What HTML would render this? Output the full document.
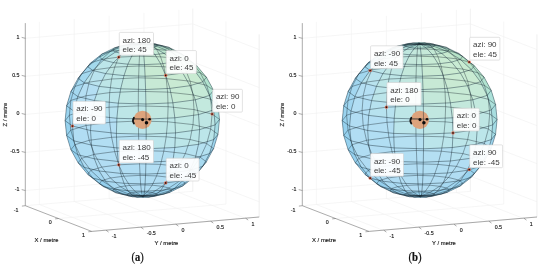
<!DOCTYPE html>
<html><head><meta charset="utf-8"><title>Loudspeaker positions</title>
<style>html,body{margin:0;padding:0;background:#fff}svg{display:block}</style></head>
<body>
<svg width="550" height="269" viewBox="0 0 550 269" font-family="'Liberation Sans', Arial, sans-serif">
<rect width="550" height="269" fill="#fff"/>
<path d="M39.3 204.5L39.3 21.9M39.3 204.5L105.7 230.2M74.2 201.5L74.2 18.9M74.2 201.5L140.6 227.2M109.1 198.5L109.1 15.9M109.1 198.5L175.5 224.2M144 195.5L144 12.9M144 195.5L210.4 221.2M178.9 192.5L178.9 9.9M178.9 192.5L245.3 218.2M25.3 190.5L192.8 176.1M192.8 176.1L259.2 201.8M25.3 152.4L192.8 138M192.8 138L259.2 163.7M25.3 114.4L192.8 100M192.8 100L259.2 125.7M25.3 76.3L192.8 61.9M192.8 61.9L259.2 87.6M25.3 38.3L192.8 23.9M192.8 23.9L259.2 49.6M192.8 191.3L192.8 8.7M25.3 205.7L192.8 191.3M226 204.1L226 21.5M58.5 218.5L226 204.1M259.2 217L259.2 34.4M91.7 231.4L259.2 217M259.2 217L259.2 34.4M192.8 191.3L192.8 8.7" fill="none" stroke="#f0f0f0" stroke-width="0.6"/>
<path d="M25.3 23.1L25.3 205.7L91.7 231.4L259.2 217M25.3 190.5l-3.6 -0.9M25.3 152.4l-3.6 -0.9M25.3 114.4l-3.6 -0.9M25.3 76.3l-3.6 -0.9M25.3 38.3l-3.6 -0.9M25.3 205.7l-3.4 0.4M58.5 218.5l-3.4 0.4M91.7 231.4l-3.4 0.4M106 230.2l2.6 1.9M140.9 227.2l2.6 1.9M175.8 224.2l2.6 1.9M210.7 221.2l2.6 1.9M245.6 218.2l2.6 1.9" fill="none" stroke="#666" stroke-width="0.55"/>
<g font-size="5.3" fill="#1a1a1a" stroke="#1a1a1a" stroke-width="0.15"><text x="19.5" y="191" text-anchor="end">-1</text><text x="19.5" y="152.9" text-anchor="end">-0.5</text><text x="19.5" y="114.9" text-anchor="end">0</text><text x="19.5" y="76.8" text-anchor="end">0.5</text><text x="19.5" y="38.8" text-anchor="end">1</text><text x="18.5" y="211.5" text-anchor="end">-1</text><text x="51.7" y="224.3" text-anchor="end">0</text><text x="84.9" y="237.2" text-anchor="end">1</text><text x="111.8" y="237.8">-1</text><text x="146.7" y="234.8">-0.5</text><text x="181.6" y="231.8">0</text><text x="216.5" y="228.8">0.5</text><text x="251.4" y="225.8">1</text><text x="46.5" y="242" text-anchor="middle" font-size="5.9">X / metre</text><text x="166.5" y="244.8" text-anchor="middle" font-size="5.9">Y / metre</text><text transform="translate(6.5 114.6) rotate(-90)" text-anchor="middle" font-size="5.9">Z / metre</text></g>
<g stroke="none">
<path d="M167.6 121.8L138.4 121L138.3 105.9L168.1 106.7Z" fill="#b0dcf2"/>
<path d="M166.2 136.8L138.6 136.1L138.4 121L167.6 121.8Z" fill="#afdcf2"/>
<path d="M138.4 121L109.7 122.3L109.1 107.2L138.3 105.9Z" fill="#afdcf2"/>
<path d="M138.6 136.1L111.6 137.3L109.7 122.3L138.4 121Z" fill="#afdcf2"/>
<path d="M168.1 106.7L138.3 105.9L138.4 91.3L167.6 92.1Z" fill="#b0dcf2"/>
<path d="M163.8 151.2L139 150.5L138.6 136.1L166.2 136.8Z" fill="#afdcf2"/>
<path d="M138.3 105.9L109.1 107.2L109.7 92.6L138.4 91.3Z" fill="#b0dcf2"/>
<path d="M139 150.5L114.7 151.6L111.6 137.3L138.6 136.1Z" fill="#afdbf2"/>
<path d="M167.6 92.1L138.4 91.3L138.6 77.8L166.2 78.6Z" fill="#b0ddf2"/>
<path d="M160.6 164.4L139.5 163.8L139 150.5L163.8 151.2Z" fill="#afdbf2"/>
<path d="M190.1 139.5L166.2 136.8L167.6 121.8L193 124.6Z" fill="#b0dcf2"/>
<path d="M193 124.6L167.6 121.8L168.1 106.7L194 109.6Z" fill="#b0dcf2"/>
<path d="M138.4 91.3L109.7 92.6L111.6 79L138.6 77.8Z" fill="#b0dcf2"/>
<path d="M139.5 163.8L118.8 164.8L114.7 151.6L139 150.5Z" fill="#aedbf2"/>
<path d="M185.3 153.6L163.8 151.2L166.2 136.8L190.1 139.5Z" fill="#afdcf2"/>
<path d="M194 109.6L168.1 106.7L167.6 92.1L193 94.9Z" fill="#b1ddf2"/>
<path d="M111.6 137.3L89.2 140.3L86 125.5L109.7 122.3Z" fill="#afdbf2"/>
<path d="M109.7 122.3L86 125.5L84.9 110.5L109.1 107.2Z" fill="#afdcf2"/>
<path d="M114.7 151.6L94.5 154.3L89.2 140.3L111.6 137.3Z" fill="#aedbf2"/>
<path d="M178.9 166.4L160.6 164.4L163.8 151.2L185.3 153.6Z" fill="#afdcf2"/>
<path d="M166.2 78.6L138.6 77.8L139 66L163.8 66.7Z" fill="#b1ddf2"/>
<path d="M109.1 107.2L84.9 110.5L86 95.8L109.7 92.6Z" fill="#afdcf2"/>
<path d="M156.6 175.9L140.1 175.4L139.5 163.8L160.6 164.4Z" fill="#afdbf2"/>
<path d="M193 94.9L167.6 92.1L166.2 78.6L190.1 81.2Z" fill="#b1ddf2"/>
<path d="M138.6 77.8L111.6 79L114.7 67.1L139 66Z" fill="#b0ddf2"/>
<path d="M140.1 175.4L123.8 176.2L118.8 164.8L139.5 163.8Z" fill="#aedbf2"/>
<path d="M118.8 164.8L101.7 167.1L94.5 154.3L114.7 151.6Z" fill="#aedbf2"/>
<path d="M109.7 92.6L86 95.8L89.2 82.1L111.6 79Z" fill="#b0dcf2"/>
<path d="M171 177.5L156.6 175.9L160.6 164.4L178.9 166.4Z" fill="#afdcf2"/>
<path d="M190.1 81.2L166.2 78.6L163.8 66.7L185.3 69.1Z" fill="#b2def2"/>
<path d="M123.8 176.2L110.4 178L101.7 167.1L118.8 164.8Z" fill="#aedbf2"/>
<path d="M163.8 66.7L139 66L139.5 56.2L160.6 56.8Z" fill="#b2def2"/>
<path d="M152.2 185.2L140.7 184.9L140.1 175.4L156.6 175.9Z" fill="#afdbf2"/>
<path d="M139 66L114.7 67.1L118.8 57.1L139.5 56.2Z" fill="#b1ddf2"/>
<path d="M206.7 143.6L190.1 139.5L193 124.6L210.7 129Z" fill="#b0ddf2"/>
<path d="M140.7 184.9L129.6 185.4L123.8 176.2L140.1 175.4Z" fill="#aedbf2"/>
<path d="M111.6 79L89.2 82.1L94.5 69.8L114.7 67.1Z" fill="#b0ddf2"/>
<path d="M200.3 157.3L185.3 153.6L190.1 139.5L206.7 143.6Z" fill="#b0dcf2"/>
<path d="M210.7 129L193 124.6L194 109.6L212.1 114Z" fill="#b1ddf2"/>
<path d="M191.6 169.6L178.9 166.4L185.3 153.6L200.3 157.3Z" fill="#b0dcf2"/>
<path d="M212.1 114L194 109.6L193 94.9L210.7 99.3Z" fill="#b2def2"/>
<path d="M162.1 186.3L152.2 185.2L156.6 175.9L171 177.5Z" fill="#afdcf2"/>
<path d="M129.6 185.4L120.3 186.7L110.4 178L123.8 176.2Z" fill="#aedbf2"/>
<path d="M89.2 140.3L75 144.7L70.8 130.1L86 125.5Z" fill="#afdbf2"/>
<path d="M185.3 69.1L163.8 66.7L160.6 56.8L178.9 58.8Z" fill="#b4dff2"/>
<path d="M94.5 154.3L81.7 158.3L75 144.7L89.2 140.3Z" fill="#aedbf2"/>
<path d="M86 125.5L70.8 130.1L69.4 115.2L84.9 110.5Z" fill="#afdcf2"/>
<path d="M181 180L171 177.5L178.9 166.4L191.6 169.6Z" fill="#afdcf2"/>
<path d="M210.7 99.3L193 94.9L190.1 81.2L206.7 85.4Z" fill="#b3def2"/>
<path d="M101.7 167.1L90.8 170.4L81.7 158.3L94.5 154.3Z" fill="#aedbf2"/>
<path d="M114.7 67.1L94.5 69.8L101.7 59.4L118.8 57.1Z" fill="#b1ddf2"/>
<path d="M84.9 110.5L69.4 115.2L70.8 100.4L86 95.8Z" fill="#afdcf2"/>
<path d="M160.6 56.8L139.5 56.2L140.1 48.9L156.6 49.3Z" fill="#b4dff2"/>
<path d="M110.4 178L101.8 180.6L90.8 170.4L101.7 167.1Z" fill="#aedbf2"/>
<path d="M147.3 192.1L141.5 191.9L140.7 184.9L152.2 185.2Z" fill="#afdbf2"/>
<path d="M139.5 56.2L118.8 57.1L123.8 49.6L140.1 48.9Z" fill="#b3def2"/>
<path d="M141.5 191.9L135.8 192.2L129.6 185.4L140.7 184.9Z" fill="#aedbf2"/>
<path d="M169 188L162.1 186.3L171 177.5L181 180Z" fill="#afdcf2"/>
<path d="M206.7 85.4L190.1 81.2L185.3 69.1L200.3 72.8Z" fill="#b5e0f1"/>
<path d="M86 95.8L70.8 100.4L75 86.4L89.2 82.1Z" fill="#b0dcf2"/>
<path d="M152.4 192.6L147.3 192.1L152.2 185.2L162.1 186.3Z" fill="#abdaf1"/>
<path d="M135.8 192.2L131.1 192.8L120.3 186.7L129.6 185.4Z" fill="#a8d8f1"/>
<path d="M120.3 186.7L114.4 188.5L101.8 180.6L110.4 178Z" fill="#a8d8f1"/>
<path d="M178.9 58.8L160.6 56.8L156.6 49.3L171 50.9Z" fill="#b2e0ee"/>
<path d="M89.2 82.1L75 86.4L81.7 73.7L94.5 69.8Z" fill="#a7d9f0"/>
<path d="M118.8 57.1L101.7 59.4L110.4 51.4L123.8 49.6Z" fill="#a6d9f0"/>
<path d="M155.9 193.5L152.4 192.6L162.1 186.3L169 188Z" fill="#9ed4ef"/>
<path d="M200.3 72.8L185.3 69.1L178.9 58.8L191.6 62Z" fill="#b0e1e8"/>
<path d="M131.1 192.8L128.1 193.7L114.4 188.5L120.3 186.7Z" fill="#9ad2ef"/>
<path d="M196.8 173.4L191.6 169.6L200.3 157.3L206.4 161.8Z" fill="#9ed4ef"/>
<path d="M206.4 161.8L200.3 157.3L206.7 143.6L213.6 148.6Z" fill="#a0d5ef"/>
<path d="M185.1 183L181 180L191.6 169.6L196.8 173.4Z" fill="#9ad3ee"/>
<path d="M156.6 49.3L140.1 48.9L140.7 44.3L152.2 44.6Z" fill="#a4dbe9"/>
<path d="M213.6 148.6L206.7 143.6L210.7 129L218 134.3Z" fill="#a0d5ef"/>
<path d="M140.1 48.9L123.8 49.6L129.6 44.8L140.7 44.3Z" fill="#9ed7ec"/>
<path d="M142.3 196.1L141.5 191.9L147.3 192.1Z" fill="#97d1ee"/>
<path d="M142.3 196.1L135.8 192.2L141.5 191.9Z" fill="#97d1ee"/>
<path d="M171.8 190.1L169 188L181 180L185.1 183Z" fill="#95d0ee"/>
<path d="M94.5 69.8L81.7 73.7L90.8 62.8L101.7 59.4Z" fill="#9ad3ee"/>
<path d="M142.3 196.1L147.3 192.1L152.4 192.6Z" fill="#94d0ee"/>
<path d="M142.3 196.1L131.1 192.8L135.8 192.2Z" fill="#94d0ee"/>
<path d="M218 134.3L210.7 129L212.1 114L219.5 119.4Z" fill="#9fd5ef"/>
<path d="M157.3 194.5L155.9 193.5L169 188L171.8 190.1Z" fill="#95d0ee"/>
<path d="M142.3 196.1L152.4 192.6L155.9 193.5Z" fill="#94d0ee"/>
<path d="M142.3 196.1L128.1 193.7L131.1 192.8Z" fill="#94d0ee"/>
<path d="M101.8 180.6L99.4 183.7L87.7 174.3L90.8 170.4Z" fill="#94d0ee"/>
<path d="M171 50.9L156.6 49.3L152.2 44.6L162.1 45.7Z" fill="#a8dfe1"/>
<path d="M114.4 188.5L112.7 190.6L99.4 183.7L101.8 180.6Z" fill="#94d0ee"/>
<path d="M90.8 170.4L87.7 174.3L78.1 162.8L81.7 158.3Z" fill="#94d0ee"/>
<path d="M191.6 62L178.9 58.8L171 50.9L181 53.4Z" fill="#a9e0df"/>
<path d="M219.5 119.4L212.1 114L210.7 99.3L218 104.6Z" fill="#9cd5ee"/>
<path d="M128.1 193.7L127.2 194.8L112.7 190.6L114.4 188.5Z" fill="#94d0ee"/>
<path d="M81.7 158.3L78.1 162.8L70.9 149.7L75 144.7Z" fill="#94d0ee"/>
<path d="M142.3 196.1L155.9 193.5L157.3 194.5Z" fill="#95d0ee"/>
<path d="M123.8 49.6L110.4 51.4L120.3 46.1L129.6 44.8Z" fill="#9cd5ed"/>
<path d="M142.3 196.1L127.2 194.8L128.1 193.7Z" fill="#94d0ee"/>
<path d="M75 144.7L70.9 149.7L66.6 135.5L70.8 130.1Z" fill="#94d0ee"/>
<path d="M218 104.6L210.7 99.3L206.7 85.4L213.6 90.3Z" fill="#a1daea"/>
<path d="M101.7 59.4L90.8 62.8L101.8 54.1L110.4 51.4Z" fill="#99d3ee"/>
<path d="M142.3 196.1L157.3 194.5L156.5 195.6Z" fill="#95d0ee"/>
<path d="M142.3 196.1L128.6 195.8L127.2 194.8Z" fill="#94d0ee"/>
<path d="M70.8 130.1L66.6 135.5L65.1 120.7L69.4 115.2Z" fill="#95d0ee"/>
<path d="M156.5 195.6L157.3 194.5L171.8 190.1L170.1 192.2Z" fill="#95d0ee"/>
<path d="M142.3 196.1L156.5 195.6L153.5 196.5Z" fill="#95d0ee"/>
<path d="M142.3 196.1L132.2 196.7L128.6 195.8Z" fill="#94d0ee"/>
<path d="M213.6 90.3L206.7 85.4L200.3 72.8L206.4 77.2Z" fill="#a8dfe1"/>
<path d="M69.4 115.2L65.1 120.7L66.6 105.8L70.8 100.4Z" fill="#95d1ee"/>
<path d="M181 53.4L171 50.9L162.1 45.7L169 47.4Z" fill="#abe0db"/>
<path d="M127.2 194.8L128.6 195.8L115.5 192.6L112.7 190.6Z" fill="#94d0ee"/>
<path d="M142.3 196.1L153.5 196.5L148.7 197.2Z" fill="#95d0ee"/>
<path d="M152.2 44.6L140.7 44.3L141.5 42.6L147.3 42.8Z" fill="#a9e0df"/>
<path d="M142.3 196.1L137.2 197.3L132.2 196.7Z" fill="#95d0ee"/>
<path d="M140.7 44.3L129.6 44.8L135.8 42.9L141.5 42.6Z" fill="#a8dfe2"/>
<path d="M170.1 192.2L171.8 190.1L185.1 183L182.7 186Z" fill="#96d1ee"/>
<path d="M142.3 196.1L148.7 197.2L143 197.4Z" fill="#95d0ee"/>
<path d="M142.3 196.1L143 197.4L137.2 197.3Z" fill="#95d0ee"/>
<path d="M70.8 100.4L66.6 105.8L70.9 91.5L75 86.4Z" fill="#96d1ee"/>
<path d="M110.4 51.4L101.8 54.1L114.4 47.9L120.3 46.1Z" fill="#9bd5ee"/>
<path d="M206.4 77.2L200.3 72.8L191.6 62L196.8 65.8Z" fill="#aae0dd"/>
<path d="M162.1 45.7L152.2 44.6L147.3 42.8L152.4 43.4Z" fill="#aae0dd"/>
<path d="M182.7 186L185.1 183L196.8 173.4L193.8 177.3Z" fill="#96d1ee"/>
<path d="M112.7 190.6L115.5 192.6L103.5 186.6L99.4 183.7Z" fill="#94d0ee"/>
<path d="M129.6 44.8L120.3 46.1L131.1 43.5L135.8 42.9Z" fill="#a7dfe4"/>
<path d="M75 86.4L70.9 91.5L78.1 78.3L81.7 73.7Z" fill="#97d1ee"/>
<path d="M153.5 196.5L156.5 195.6L170.1 192.2L164.2 194Z" fill="#95d0ee"/>
<path d="M193.8 177.3L196.8 173.4L206.4 161.8L202.8 166.3Z" fill="#96d1ee"/>
<path d="M196.8 65.8L191.6 62L181 53.4L185.1 56.4Z" fill="#ace1da"/>
<path d="M128.6 195.8L132.2 196.7L122.4 194.3L115.5 192.6Z" fill="#94d0ee"/>
</g>
<g stroke="none">
<path d="M169 47.4L162.1 45.7L152.4 43.4L155.9 44.2Z" fill="#b1e3d0" fill-opacity="0.8"/>
<path d="M99.4 183.7L103.5 186.6L92.9 178.1L87.7 174.3Z" fill="#95d0ee" fill-opacity="0.8"/>
<path d="M81.7 73.7L78.1 78.3L87.7 66.7L90.8 62.8Z" fill="#9ad3ee" fill-opacity="0.8"/>
<path d="M120.3 46.1L114.4 47.9L128.1 44.4L131.1 43.5Z" fill="#aae0de" fill-opacity="0.8"/>
<path d="M202.8 166.3L206.4 161.8L213.6 148.6L209.5 153.6Z" fill="#99d3ee" fill-opacity="0.8"/>
<path d="M148.7 197.2L153.5 196.5L164.2 194L155 195.3Z" fill="#95d1ee" fill-opacity="0.8"/>
<path d="M185.1 56.4L181 53.4L169 47.4L171.8 49.5Z" fill="#b5e4c9" fill-opacity="0.8"/>
<path d="M90.8 62.8L87.7 66.7L99.4 57.1L101.8 54.1Z" fill="#9cd5ed" fill-opacity="0.8"/>
<path d="M132.2 196.7L137.2 197.3L132.4 195.4L122.4 194.3Z" fill="#95d0ee" fill-opacity="0.8"/>
<path d="M87.7 174.3L92.9 178.1L84.2 167.3L78.1 162.8Z" fill="#95d0ee" fill-opacity="0.8"/>
<path d="M164.2 194L170.1 192.2L182.7 186L174.1 188.6Z" fill="#96d1ee" fill-opacity="0.8"/>
<path d="M209.5 153.6L213.6 148.6L218 134.3L213.7 139.6Z" fill="#9cd5ed" fill-opacity="0.8"/>
<path d="M147.3 42.8L141.5 42.6L142.3 43.9Z" fill="#aee2d6" fill-opacity="0.8"/>
<path d="M141.5 42.6L135.8 42.9L142.3 43.9Z" fill="#ade1d8" fill-opacity="0.8"/>
<path d="M101.8 54.1L99.4 57.1L112.7 50L114.4 47.9Z" fill="#a5dde5" fill-opacity="0.8"/>
<path d="M143 197.4L148.7 197.2L155 195.3L143.8 195.8Z" fill="#95d0ee" fill-opacity="0.8"/>
<path d="M152.4 43.4L147.3 42.8L142.3 43.9Z" fill="#afe2d4" fill-opacity="0.8"/>
<path d="M137.2 197.3L143 197.4L143.8 195.8L132.4 195.4Z" fill="#95d0ee" fill-opacity="0.8"/>
<path d="M135.8 42.9L131.1 43.5L142.3 43.9Z" fill="#ade1d9" fill-opacity="0.8"/>
<path d="M171.8 49.5L169 47.4L155.9 44.2L157.3 45.3Z" fill="#b4e4cc" fill-opacity="0.8"/>
<path d="M115.5 192.6L122.4 194.3L113.5 189.1L103.5 186.6Z" fill="#95d0ee" fill-opacity="0.8"/>
<path d="M213.7 139.6L218 134.3L219.5 119.4L215.1 124.9Z" fill="#a7dfe3" fill-opacity="0.8"/>
<path d="M78.1 162.8L84.2 167.3L77.8 154.7L70.9 149.7Z" fill="#95d0ee" fill-opacity="0.8"/>
<path d="M155.9 44.2L152.4 43.4L142.3 43.9Z" fill="#b0e3d2" fill-opacity="0.8"/>
<path d="M131.1 43.5L128.1 44.4L142.3 43.9Z" fill="#ade1d9" fill-opacity="0.8"/>
<path d="M114.4 47.9L112.7 50L127.2 45.5L128.1 44.4Z" fill="#aae0de" fill-opacity="0.8"/>
<path d="M215.1 124.9L219.5 119.4L218 104.6L213.7 109.9Z" fill="#abe0dc" fill-opacity="0.8"/>
<path d="M157.3 45.3L155.9 44.2L142.3 43.9Z" fill="#b2e3d0" fill-opacity="0.8"/>
<path d="M128.1 44.4L127.2 45.5L142.3 43.9Z" fill="#ade1d8" fill-opacity="0.8"/>
<path d="M174.1 188.6L182.7 186L193.8 177.3L182.8 180.6Z" fill="#97d1ee" fill-opacity="0.8"/>
<path d="M70.9 149.7L77.8 154.7L73.8 140.8L66.6 135.5Z" fill="#96d1ee" fill-opacity="0.8"/>
<path d="M213.7 109.9L218 104.6L213.6 90.3L209.5 95.4Z" fill="#afe2d4" fill-opacity="0.8"/>
<path d="M156.5 46.3L157.3 45.3L142.3 43.9Z" fill="#b3e4cd" fill-opacity="0.8"/>
<path d="M155 195.3L164.2 194L174.1 188.6L160.7 190.4Z" fill="#96d1ee" fill-opacity="0.8"/>
<path d="M127.2 45.5L128.6 46.6L142.3 43.9Z" fill="#aee2d6" fill-opacity="0.8"/>
<path d="M209.5 95.4L213.6 90.3L206.4 77.2L202.8 81.8Z" fill="#b4e4cb" fill-opacity="0.8"/>
<path d="M170.1 51.6L171.8 49.5L157.3 45.3L156.5 46.3Z" fill="#b7e4c7" fill-opacity="0.8"/>
<path d="M66.6 135.5L73.8 140.8L72.5 126L65.1 120.7Z" fill="#97d2ee" fill-opacity="0.8"/>
<path d="M103.5 186.6L113.5 189.1L105.6 181.2L92.9 178.1Z" fill="#95d0ee" fill-opacity="0.8"/>
<path d="M202.8 81.8L206.4 77.2L196.8 65.8L193.8 69.6Z" fill="#b8e5c4" fill-opacity="0.8"/>
<path d="M182.7 59.4L185.1 56.4L171.8 49.5L170.1 51.6Z" fill="#bae5c1" fill-opacity="0.8"/>
<path d="M122.4 194.3L132.4 195.4L127.9 190.7L113.5 189.1Z" fill="#95d0ee" fill-opacity="0.8"/>
<path d="M193.8 69.6L196.8 65.8L185.1 56.4L182.7 59.4Z" fill="#bae6c0" fill-opacity="0.8"/>
<path d="M153.5 47.3L156.5 46.3L142.3 43.9Z" fill="#b4e4cb" fill-opacity="0.8"/>
<path d="M128.6 46.6L132.2 47.4L142.3 43.9Z" fill="#afe3d4" fill-opacity="0.8"/>
<path d="M112.7 50L115.5 52L128.6 46.6L127.2 45.5Z" fill="#abe0db" fill-opacity="0.8"/>
<path d="M65.1 120.7L72.5 126L73.8 111.1L66.6 105.8Z" fill="#9cd4ef" fill-opacity="0.8"/>
<path d="M148.7 47.9L153.5 47.3L142.3 43.9Z" fill="#b4e4cb" fill-opacity="0.8"/>
<path d="M132.2 47.4L137.2 48L142.3 43.9Z" fill="#b1e3d1" fill-opacity="0.8"/>
<path d="M182.8 180.6L193.8 177.3L202.8 166.3L190 170.3Z" fill="#9ad3ee" fill-opacity="0.8"/>
<path d="M99.4 57.1L103.5 60.1L115.5 52L112.7 50Z" fill="#a9e0e0" fill-opacity="0.8"/>
<path d="M143 48.2L148.7 47.9L142.3 43.9Z" fill="#b6e4cd" fill-opacity="0.8"/>
<path d="M137.2 48L143 48.2L142.3 43.9Z" fill="#b5e4cf" fill-opacity="0.8"/>
<path d="M143.8 195.8L155 195.3L160.7 190.4L144.5 191.2Z" fill="#97d1ee" fill-opacity="0.8"/>
<path d="M66.6 105.8L73.8 111.1L77.8 96.5L70.9 91.5Z" fill="#9fd5ef" fill-opacity="0.8"/>
<path d="M132.4 195.4L143.8 195.8L144.5 191.2L127.9 190.7Z" fill="#98d2ee" fill-opacity="0.8"/>
<path d="M87.7 66.7L92.9 70.5L103.5 60.1L99.4 57.1Z" fill="#a5dbeb" fill-opacity="0.8"/>
<path d="M70.9 91.5L77.8 96.5L84.2 82.7L78.1 78.3Z" fill="#a2d7ef" fill-opacity="0.8"/>
<path d="M78.1 78.3L84.2 82.7L92.9 70.5L87.7 66.7Z" fill="#a2d7ef" fill-opacity="0.8"/>
<path d="M164.2 53.4L170.1 51.6L156.5 46.3L153.5 47.3Z" fill="#bde7c6" fill-opacity="0.8"/>
<path d="M92.9 178.1L105.6 181.2L99.2 171L84.2 167.3Z" fill="#a2d6f0" fill-opacity="0.8"/>
<path d="M115.5 52L122.4 53.7L132.2 47.4L128.6 46.6Z" fill="#b6e5da" fill-opacity="0.8"/>
<path d="M160.7 190.4L174.1 188.6L182.8 180.6L165.7 182.9Z" fill="#a4d7f0" fill-opacity="0.8"/>
<path d="M190 170.3L202.8 166.3L209.5 153.6L195.3 158Z" fill="#aadbf0" fill-opacity="0.8"/>
<path d="M113.5 189.1L127.9 190.7L124 183.3L105.6 181.2Z" fill="#a9d9f1" fill-opacity="0.8"/>
<path d="M174.1 62.1L182.7 59.4L170.1 51.6L164.2 53.4Z" fill="#caecc7" fill-opacity="0.8"/>
<path d="M155 54.6L164.2 53.4L153.5 47.3L148.7 47.9Z" fill="#c7eacc" fill-opacity="0.8"/>
<path d="M122.4 53.7L132.4 54.8L137.2 48L132.2 47.4Z" fill="#c2e9da" fill-opacity="0.8"/>
<path d="M195.3 158L209.5 153.6L213.7 139.6L198.5 144.3Z" fill="#b7e2f0" fill-opacity="0.8"/>
<path d="M84.2 167.3L99.2 171L94.4 158.8L77.8 154.7Z" fill="#b0dcf2" fill-opacity="0.8"/>
<path d="M103.5 60.1L113.5 62.6L122.4 53.7L115.5 52Z" fill="#c0e8e3" fill-opacity="0.8"/>
<path d="M143.8 55.1L155 54.6L148.7 47.9L143 48.2Z" fill="#caebd2" fill-opacity="0.8"/>
<path d="M144.5 191.2L160.7 190.4L165.7 182.9L145.1 183.9Z" fill="#b0ddf2" fill-opacity="0.8"/>
<path d="M132.4 54.8L143.8 55.1L143 48.2L137.2 48Z" fill="#c8ebd6" fill-opacity="0.8"/>
<path d="M182.8 73L193.8 69.6L182.7 59.4L174.1 62.1Z" fill="#ceedca" fill-opacity="0.8"/>
<path d="M127.9 190.7L144.5 191.2L145.1 183.9L124 183.3Z" fill="#b0dcf2" fill-opacity="0.8"/>
<path d="M198.5 144.3L213.7 139.6L215.1 124.9L199.6 129.6Z" fill="#bfe8e7" fill-opacity="0.8"/>
<path d="M165.7 182.9L182.8 180.6L190 170.3L169.9 173Z" fill="#b1ddf2" fill-opacity="0.8"/>
<path d="M190 85.7L202.8 81.8L193.8 69.6L182.8 73Z" fill="#ceedcb" fill-opacity="0.8"/>
<path d="M77.8 154.7L94.4 158.8L91.5 145.1L73.8 140.8Z" fill="#b0ddf2" fill-opacity="0.8"/>
<path d="M92.9 70.5L105.6 73.6L113.5 62.6L103.5 60.1Z" fill="#bfe8e7" fill-opacity="0.8"/>
<path d="M199.6 129.6L215.1 124.9L213.7 109.9L198.5 114.6Z" fill="#c2e9e0" fill-opacity="0.8"/>
<path d="M195.3 99.8L209.5 95.4L202.8 81.8L190 85.7Z" fill="#cbecd0" fill-opacity="0.8"/>
<path d="M105.6 181.2L124 183.3L120.7 173.4L99.2 171Z" fill="#b0dcf2" fill-opacity="0.8"/>
<path d="M198.5 114.6L213.7 109.9L209.5 95.4L195.3 99.8Z" fill="#c7ebd8" fill-opacity="0.8"/>
<path d="M160.7 63.9L174.1 62.1L164.2 53.4L155 54.6Z" fill="#ceedca" fill-opacity="0.8"/>
<path d="M113.5 62.6L127.9 64.2L132.4 54.8L122.4 53.7Z" fill="#c4eadd" fill-opacity="0.8"/>
<path d="M73.8 140.8L91.5 145.1L90.5 130.5L72.5 126Z" fill="#b1ddf2" fill-opacity="0.8"/>
<path d="M84.2 82.7L99.2 86.4L105.6 73.6L92.9 70.5Z" fill="#bbe5ec" fill-opacity="0.8"/>
<path d="M72.5 126L90.5 130.5L91.5 115.4L73.8 111.1Z" fill="#b2ddf2" fill-opacity="0.8"/>
<path d="M77.8 96.5L94.4 100.6L99.2 86.4L84.2 82.7Z" fill="#b5e0f2" fill-opacity="0.8"/>
<path d="M169.9 173L190 170.3L195.3 158L172.9 161Z" fill="#b3dff2" fill-opacity="0.8"/>
<path d="M144.5 64.6L160.7 63.9L155 54.6L143.8 55.1Z" fill="#cdedcd" fill-opacity="0.8"/>
<path d="M73.8 111.1L91.5 115.4L94.4 100.6L77.8 96.5Z" fill="#b3def2" fill-opacity="0.8"/>
<path d="M145.1 183.9L165.7 182.9L169.9 173L145.6 174.1Z" fill="#b1ddf2" fill-opacity="0.8"/>
<path d="M127.9 64.2L144.5 64.6L143.8 55.1L132.4 54.8Z" fill="#c9ebd4" fill-opacity="0.8"/>
<path d="M124 183.3L145.1 183.9L145.6 174.1L120.7 173.4Z" fill="#b1ddf2" fill-opacity="0.8"/>
<path d="M165.7 75.3L182.8 73L174.1 62.1L160.7 63.9Z" fill="#cfeec9" fill-opacity="0.8"/>
<path d="M99.2 171L120.7 173.4L118.3 161.5L94.4 158.8Z" fill="#b1ddf2" fill-opacity="0.8"/>
<path d="M105.6 73.6L124 75.6L127.9 64.2L113.5 62.6Z" fill="#c3e9df" fill-opacity="0.8"/>
<path d="M172.9 161L195.3 158L198.5 144.3L174.8 147.5Z" fill="#b8e3ef" fill-opacity="0.8"/>
<path d="M169.9 88.4L190 85.7L182.8 73L165.7 75.3Z" fill="#cfeeca" fill-opacity="0.8"/>
<path d="M145.1 76.2L165.7 75.3L160.7 63.9L144.5 64.6Z" fill="#ceedcb" fill-opacity="0.8"/>
<path d="M145.6 174.1L169.9 173L172.9 161L145.9 162.2Z" fill="#b3def2" fill-opacity="0.8"/>
<path d="M94.4 158.8L118.3 161.5L116.9 147.9L91.5 145.1Z" fill="#b1ddf2" fill-opacity="0.8"/>
<path d="M124 75.6L145.1 76.2L144.5 64.6L127.9 64.2Z" fill="#c8ebd5" fill-opacity="0.8"/>
<path d="M174.8 147.5L198.5 144.3L199.6 129.6L175.5 132.9Z" fill="#bfe8e6" fill-opacity="0.8"/>
<path d="M120.7 173.4L145.6 174.1L145.9 162.2L118.3 161.5Z" fill="#b1ddf2" fill-opacity="0.8"/>
<path d="M99.2 86.4L120.7 88.8L124 75.6L105.6 73.6Z" fill="#c0e8e3" fill-opacity="0.8"/>
<path d="M172.9 102.8L195.3 99.8L190 85.7L169.9 88.4Z" fill="#cdedcd" fill-opacity="0.8"/>
<path d="M175.5 132.9L199.6 129.6L198.5 114.6L174.8 117.8Z" fill="#c3eadf" fill-opacity="0.8"/>
<path d="M174.8 117.8L198.5 114.6L195.3 99.8L172.9 102.8Z" fill="#c8ebd6" fill-opacity="0.8"/>
<path d="M91.5 145.1L116.9 147.9L116.4 133.4L90.5 130.5Z" fill="#b3def2" fill-opacity="0.8"/>
<path d="M94.4 100.6L118.3 103.2L120.7 88.8L99.2 86.4Z" fill="#bee7e7" fill-opacity="0.8"/>
<path d="M145.6 89.5L169.9 88.4L165.7 75.3L145.1 76.2Z" fill="#cdeccd" fill-opacity="0.8"/>
<path d="M145.9 162.2L172.9 161L174.8 147.5L146.1 148.8Z" fill="#b5e0f1" fill-opacity="0.8"/>
<path d="M90.5 130.5L116.4 133.4L116.9 118.3L91.5 115.4Z" fill="#b4dff2" fill-opacity="0.8"/>
<path d="M91.5 115.4L116.9 118.3L118.3 103.2L94.4 100.6Z" fill="#b9e4ee" fill-opacity="0.8"/>
<path d="M120.7 88.8L145.6 89.5L145.1 76.2L124 75.6Z" fill="#c6ead9" fill-opacity="0.8"/>
<path d="M118.3 161.5L145.9 162.2L146.1 148.8L116.9 147.9Z" fill="#b3def2" fill-opacity="0.8"/>
<path d="M145.9 104L172.9 102.8L169.9 88.4L145.6 89.5Z" fill="#c9ebd3" fill-opacity="0.8"/>
<path d="M146.1 148.8L174.8 147.5L175.5 132.9L146.2 134.2Z" fill="#bee7e9" fill-opacity="0.8"/>
<path d="M118.3 103.2L145.9 104L145.6 89.5L120.7 88.8Z" fill="#c3eade" fill-opacity="0.8"/>
<path d="M116.9 147.9L146.1 148.8L146.2 134.2L116.4 133.4Z" fill="#b6e1f1" fill-opacity="0.8"/>
<path d="M146.1 119.1L174.8 117.8L172.9 102.8L145.9 104Z" fill="#c5eadb" fill-opacity="0.8"/>
<path d="M146.2 134.2L175.5 132.9L174.8 117.8L146.1 119.1Z" fill="#c1e8e2" fill-opacity="0.8"/>
<path d="M116.9 118.3L146.1 119.1L145.9 104L118.3 103.2Z" fill="#c0e8e4" fill-opacity="0.8"/>
<path d="M116.4 133.4L146.2 134.2L146.1 119.1L116.9 118.3Z" fill="#bee7e9" fill-opacity="0.8"/>
</g>
<path d="M135.8 192.2L131.1 192.8M131.1 192.8L128.1 193.7M128.1 193.7L127.2 194.8M127.2 194.8L128.6 195.8M128.6 195.8L132.2 196.7M132.2 196.7L137.2 197.3M148.7 197.2L153.5 196.5M153.5 196.5L156.5 195.6M156.5 195.6L157.3 194.5M157.3 194.5L155.9 193.5M155.9 193.5L152.4 192.6M152.4 192.6L147.3 192.1M147.3 192.1L141.5 191.9M141.5 191.9L135.8 192.2M129.6 185.4L120.3 186.7M120.3 186.7L114.4 188.5M114.4 188.5L112.7 190.6M112.7 190.6L115.5 192.6M170.1 192.2L171.8 190.1M171.8 190.1L169 188M169 188L162.1 186.3M162.1 186.3L152.2 185.2M152.2 185.2L140.7 184.9M140.7 184.9L129.6 185.4M123.8 176.2L110.4 178M110.4 178L101.8 180.6M101.8 180.6L99.4 183.7M99.4 183.7L103.5 186.6M182.7 186L185.1 183M185.1 183L181 180M181 180L171 177.5M171 177.5L156.6 175.9M156.6 175.9L140.1 175.4M140.1 175.4L123.8 176.2M118.8 164.8L101.7 167.1M101.7 167.1L90.8 170.4M90.8 170.4L87.7 174.3M193.8 177.3L196.8 173.4M196.8 173.4L191.6 169.6M191.6 169.6L178.9 166.4M178.9 166.4L160.6 164.4M160.6 164.4L139.5 163.8M139.5 163.8L118.8 164.8M114.7 151.6L94.5 154.3M94.5 154.3L81.7 158.3M81.7 158.3L78.1 162.8M206.4 161.8L200.3 157.3M200.3 157.3L185.3 153.6M185.3 153.6L163.8 151.2M163.8 151.2L139 150.5M139 150.5L114.7 151.6M111.6 137.3L89.2 140.3M89.2 140.3L75 144.7M75 144.7L70.9 149.7M213.6 148.6L206.7 143.6M206.7 143.6L190.1 139.5M190.1 139.5L166.2 136.8M166.2 136.8L138.6 136.1M138.6 136.1L111.6 137.3M109.7 122.3L86 125.5M86 125.5L70.8 130.1M70.8 130.1L66.6 135.5M218 134.3L210.7 129M210.7 129L193 124.6M193 124.6L167.6 121.8M167.6 121.8L138.4 121M138.4 121L109.7 122.3M109.1 107.2L84.9 110.5M84.9 110.5L69.4 115.2M69.4 115.2L65.1 120.7M219.5 119.4L212.1 114M212.1 114L194 109.6M194 109.6L168.1 106.7M168.1 106.7L138.3 105.9M138.3 105.9L109.1 107.2M109.7 92.6L86 95.8M86 95.8L70.8 100.4M70.8 100.4L66.6 105.8M218 104.6L210.7 99.3M210.7 99.3L193 94.9M193 94.9L167.6 92.1M167.6 92.1L138.4 91.3M138.4 91.3L109.7 92.6M111.6 79L89.2 82.1M89.2 82.1L75 86.4M75 86.4L70.9 91.5M213.6 90.3L206.7 85.4M206.7 85.4L190.1 81.2M190.1 81.2L166.2 78.6M166.2 78.6L138.6 77.8M138.6 77.8L111.6 79M114.7 67.1L94.5 69.8M94.5 69.8L81.7 73.7M81.7 73.7L78.1 78.3M206.4 77.2L200.3 72.8M200.3 72.8L185.3 69.1M185.3 69.1L163.8 66.7M163.8 66.7L139 66M139 66L114.7 67.1M118.8 57.1L101.7 59.4M101.7 59.4L90.8 62.8M196.8 65.8L191.6 62M191.6 62L178.9 58.8M178.9 58.8L160.6 56.8M160.6 56.8L139.5 56.2M139.5 56.2L118.8 57.1M123.8 49.6L110.4 51.4M110.4 51.4L101.8 54.1M181 53.4L171 50.9M171 50.9L156.6 49.3M156.6 49.3L140.1 48.9M140.1 48.9L123.8 49.6M129.6 44.8L120.3 46.1M120.3 46.1L114.4 47.9M169 47.4L162.1 45.7M162.1 45.7L152.2 44.6M152.2 44.6L140.7 44.3M140.7 44.3L129.6 44.8M147.3 42.8L141.5 42.6M141.5 42.6L135.8 42.9M142.3 196.1L135.8 192.2M135.8 192.2L129.6 185.4M129.6 185.4L123.8 176.2M123.8 176.2L118.8 164.8M118.8 164.8L114.7 151.6M114.7 151.6L111.6 137.3M111.6 137.3L109.7 122.3M109.7 122.3L109.1 107.2M109.1 107.2L109.7 92.6M109.7 92.6L111.6 79M111.6 79L114.7 67.1M114.7 67.1L118.8 57.1M118.8 57.1L123.8 49.6M123.8 49.6L129.6 44.8M129.6 44.8L135.8 42.9M142.3 196.1L131.1 192.8M131.1 192.8L120.3 186.7M120.3 186.7L110.4 178M110.4 178L101.7 167.1M101.7 167.1L94.5 154.3M94.5 154.3L89.2 140.3M89.2 140.3L86 125.5M86 125.5L84.9 110.5M84.9 110.5L86 95.8M86 95.8L89.2 82.1M89.2 82.1L94.5 69.8M94.5 69.8L101.7 59.4M101.7 59.4L110.4 51.4M110.4 51.4L120.3 46.1M120.3 46.1L131.1 43.5M142.3 196.1L128.1 193.7M128.1 193.7L114.4 188.5M114.4 188.5L101.8 180.6M101.8 180.6L90.8 170.4M90.8 170.4L81.7 158.3M81.7 158.3L75 144.7M75 144.7L70.8 130.1M70.8 130.1L69.4 115.2M69.4 115.2L70.8 100.4M70.8 100.4L75 86.4M75 86.4L81.7 73.7M81.7 73.7L90.8 62.8M90.8 62.8L101.8 54.1M142.3 196.1L127.2 194.8M127.2 194.8L112.7 190.6M112.7 190.6L99.4 183.7M99.4 183.7L87.7 174.3M87.7 174.3L78.1 162.8M78.1 162.8L70.9 149.7M70.9 149.7L66.6 135.5M142.3 196.1L128.6 195.8M128.6 195.8L115.5 192.6M142.3 196.1L132.2 196.7M142.3 196.1L137.2 197.3M142.3 196.1L143 197.4M142.3 196.1L148.7 197.2M142.3 196.1L153.5 196.5M142.3 196.1L156.5 195.6M156.5 195.6L170.1 192.2M170.1 192.2L182.7 186M142.3 196.1L157.3 194.5M157.3 194.5L171.8 190.1M171.8 190.1L185.1 183M185.1 183L196.8 173.4M196.8 173.4L206.4 161.8M206.4 161.8L213.6 148.6M213.6 148.6L218 134.3M218 134.3L219.5 119.4M219.5 119.4L218 104.6M142.3 196.1L155.9 193.5M155.9 193.5L169 188M169 188L181 180M181 180L191.6 169.6M191.6 169.6L200.3 157.3M200.3 157.3L206.7 143.6M206.7 143.6L210.7 129M210.7 129L212.1 114M212.1 114L210.7 99.3M210.7 99.3L206.7 85.4M206.7 85.4L200.3 72.8M200.3 72.8L191.6 62M191.6 62L181 53.4M181 53.4L169 47.4M142.3 196.1L152.4 192.6M152.4 192.6L162.1 186.3M162.1 186.3L171 177.5M171 177.5L178.9 166.4M178.9 166.4L185.3 153.6M185.3 153.6L190.1 139.5M190.1 139.5L193 124.6M193 124.6L194 109.6M194 109.6L193 94.9M193 94.9L190.1 81.2M190.1 81.2L185.3 69.1M185.3 69.1L178.9 58.8M178.9 58.8L171 50.9M171 50.9L162.1 45.7M162.1 45.7L152.4 43.4M142.3 196.1L147.3 192.1M147.3 192.1L152.2 185.2M152.2 185.2L156.6 175.9M156.6 175.9L160.6 164.4M160.6 164.4L163.8 151.2M163.8 151.2L166.2 136.8M166.2 136.8L167.6 121.8M167.6 121.8L168.1 106.7M168.1 106.7L167.6 92.1M167.6 92.1L166.2 78.6M166.2 78.6L163.8 66.7M163.8 66.7L160.6 56.8M160.6 56.8L156.6 49.3M156.6 49.3L152.2 44.6M152.2 44.6L147.3 42.8M142.3 196.1L141.5 191.9M141.5 191.9L140.7 184.9M140.7 184.9L140.1 175.4M140.1 175.4L139.5 163.8M139.5 163.8L139 150.5M139 150.5L138.6 136.1M138.6 136.1L138.4 121M138.4 121L138.3 105.9M138.3 105.9L138.4 91.3M138.4 91.3L138.6 77.8M138.6 77.8L139 66M139 66L139.5 56.2M139.5 56.2L140.1 48.9M140.1 48.9L140.7 44.3M140.7 44.3L141.5 42.6" fill="none" stroke="#10202a" stroke-width="0.45" stroke-opacity="0.85"/>
<circle cx="142.5" cy="119.9" r="9.1" fill="#dda37c"/>
<path d="M137.2 197.3L143 197.4M143 197.4L148.7 197.2M115.5 192.6L122.4 194.3M122.4 194.3L132.4 195.4M132.4 195.4L143.8 195.8M143.8 195.8L155 195.3M155 195.3L164.2 194M164.2 194L170.1 192.2M103.5 186.6L113.5 189.1M113.5 189.1L127.9 190.7M127.9 190.7L144.5 191.2M144.5 191.2L160.7 190.4M160.7 190.4L174.1 188.6M174.1 188.6L182.7 186M87.7 174.3L92.9 178.1M92.9 178.1L105.6 181.2M105.6 181.2L124 183.3M124 183.3L145.1 183.9M145.1 183.9L165.7 182.9M165.7 182.9L182.8 180.6M182.8 180.6L193.8 177.3M78.1 162.8L84.2 167.3M84.2 167.3L99.2 171M99.2 171L120.7 173.4M120.7 173.4L145.6 174.1M145.6 174.1L169.9 173M169.9 173L190 170.3M190 170.3L202.8 166.3M202.8 166.3L206.4 161.8M70.9 149.7L77.8 154.7M77.8 154.7L94.4 158.8M94.4 158.8L118.3 161.5M118.3 161.5L145.9 162.2M145.9 162.2L172.9 161M172.9 161L195.3 158M195.3 158L209.5 153.6M209.5 153.6L213.6 148.6M66.6 135.5L73.8 140.8M73.8 140.8L91.5 145.1M91.5 145.1L116.9 147.9M116.9 147.9L146.1 148.8M146.1 148.8L174.8 147.5M174.8 147.5L198.5 144.3M198.5 144.3L213.7 139.6M213.7 139.6L218 134.3M65.1 120.7L72.5 126M72.5 126L90.5 130.5M90.5 130.5L116.4 133.4M116.4 133.4L146.2 134.2M146.2 134.2L175.5 132.9M175.5 132.9L199.6 129.6M199.6 129.6L215.1 124.9M215.1 124.9L219.5 119.4M66.6 105.8L73.8 111.1M73.8 111.1L91.5 115.4M91.5 115.4L116.9 118.3M116.9 118.3L146.1 119.1M146.1 119.1L174.8 117.8M174.8 117.8L198.5 114.6M198.5 114.6L213.7 109.9M213.7 109.9L218 104.6M70.9 91.5L77.8 96.5M77.8 96.5L94.4 100.6M94.4 100.6L118.3 103.2M118.3 103.2L145.9 104M145.9 104L172.9 102.8M172.9 102.8L195.3 99.8M195.3 99.8L209.5 95.4M209.5 95.4L213.6 90.3M78.1 78.3L84.2 82.7M84.2 82.7L99.2 86.4M99.2 86.4L120.7 88.8M120.7 88.8L145.6 89.5M145.6 89.5L169.9 88.4M169.9 88.4L190 85.7M190 85.7L202.8 81.8M202.8 81.8L206.4 77.2M90.8 62.8L87.7 66.7M87.7 66.7L92.9 70.5M92.9 70.5L105.6 73.6M105.6 73.6L124 75.6M124 75.6L145.1 76.2M145.1 76.2L165.7 75.3M165.7 75.3L182.8 73M182.8 73L193.8 69.6M193.8 69.6L196.8 65.8M101.8 54.1L99.4 57.1M99.4 57.1L103.5 60.1M103.5 60.1L113.5 62.6M113.5 62.6L127.9 64.2M127.9 64.2L144.5 64.6M144.5 64.6L160.7 63.9M160.7 63.9L174.1 62.1M174.1 62.1L182.7 59.4M182.7 59.4L185.1 56.4M185.1 56.4L181 53.4M114.4 47.9L112.7 50M112.7 50L115.5 52M115.5 52L122.4 53.7M122.4 53.7L132.4 54.8M132.4 54.8L143.8 55.1M143.8 55.1L155 54.6M155 54.6L164.2 53.4M164.2 53.4L170.1 51.6M170.1 51.6L171.8 49.5M171.8 49.5L169 47.4M135.8 42.9L131.1 43.5M131.1 43.5L128.1 44.4M128.1 44.4L127.2 45.5M127.2 45.5L128.6 46.6M128.6 46.6L132.2 47.4M132.2 47.4L137.2 48M137.2 48L143 48.2M143 48.2L148.7 47.9M148.7 47.9L153.5 47.3M153.5 47.3L156.5 46.3M156.5 46.3L157.3 45.3M157.3 45.3L155.9 44.2M155.9 44.2L152.4 43.4M152.4 43.4L147.3 42.8M135.8 42.9L142.3 43.9M131.1 43.5L142.3 43.9M101.8 54.1L114.4 47.9M114.4 47.9L128.1 44.4M128.1 44.4L142.3 43.9M66.6 135.5L65.1 120.7M65.1 120.7L66.6 105.8M66.6 105.8L70.9 91.5M70.9 91.5L78.1 78.3M78.1 78.3L87.7 66.7M87.7 66.7L99.4 57.1M99.4 57.1L112.7 50M112.7 50L127.2 45.5M127.2 45.5L142.3 43.9M115.5 192.6L103.5 186.6M103.5 186.6L92.9 178.1M92.9 178.1L84.2 167.3M84.2 167.3L77.8 154.7M77.8 154.7L73.8 140.8M73.8 140.8L72.5 126M72.5 126L73.8 111.1M73.8 111.1L77.8 96.5M77.8 96.5L84.2 82.7M84.2 82.7L92.9 70.5M92.9 70.5L103.5 60.1M103.5 60.1L115.5 52M115.5 52L128.6 46.6M128.6 46.6L142.3 43.9M132.2 196.7L122.4 194.3M122.4 194.3L113.5 189.1M113.5 189.1L105.6 181.2M105.6 181.2L99.2 171M99.2 171L94.4 158.8M94.4 158.8L91.5 145.1M91.5 145.1L90.5 130.5M90.5 130.5L91.5 115.4M91.5 115.4L94.4 100.6M94.4 100.6L99.2 86.4M99.2 86.4L105.6 73.6M105.6 73.6L113.5 62.6M113.5 62.6L122.4 53.7M122.4 53.7L132.2 47.4M132.2 47.4L142.3 43.9M137.2 197.3L132.4 195.4M132.4 195.4L127.9 190.7M127.9 190.7L124 183.3M124 183.3L120.7 173.4M120.7 173.4L118.3 161.5M118.3 161.5L116.9 147.9M116.9 147.9L116.4 133.4M116.4 133.4L116.9 118.3M116.9 118.3L118.3 103.2M118.3 103.2L120.7 88.8M120.7 88.8L124 75.6M124 75.6L127.9 64.2M127.9 64.2L132.4 54.8M132.4 54.8L137.2 48M137.2 48L142.3 43.9M143 197.4L143.8 195.8M143.8 195.8L144.5 191.2M144.5 191.2L145.1 183.9M145.1 183.9L145.6 174.1M145.6 174.1L145.9 162.2M145.9 162.2L146.1 148.8M146.1 148.8L146.2 134.2M146.2 134.2L146.1 119.1M146.1 119.1L145.9 104M145.9 104L145.6 89.5M145.6 89.5L145.1 76.2M145.1 76.2L144.5 64.6M144.5 64.6L143.8 55.1M143.8 55.1L143 48.2M143 48.2L142.3 43.9M148.7 197.2L155 195.3M155 195.3L160.7 190.4M160.7 190.4L165.7 182.9M165.7 182.9L169.9 173M169.9 173L172.9 161M172.9 161L174.8 147.5M174.8 147.5L175.5 132.9M175.5 132.9L174.8 117.8M174.8 117.8L172.9 102.8M172.9 102.8L169.9 88.4M169.9 88.4L165.7 75.3M165.7 75.3L160.7 63.9M160.7 63.9L155 54.6M155 54.6L148.7 47.9M148.7 47.9L142.3 43.9M153.5 196.5L164.2 194M164.2 194L174.1 188.6M174.1 188.6L182.8 180.6M182.8 180.6L190 170.3M190 170.3L195.3 158M195.3 158L198.5 144.3M198.5 144.3L199.6 129.6M199.6 129.6L198.5 114.6M198.5 114.6L195.3 99.8M195.3 99.8L190 85.7M190 85.7L182.8 73M182.8 73L174.1 62.1M174.1 62.1L164.2 53.4M164.2 53.4L153.5 47.3M153.5 47.3L142.3 43.9M182.7 186L193.8 177.3M193.8 177.3L202.8 166.3M202.8 166.3L209.5 153.6M209.5 153.6L213.7 139.6M213.7 139.6L215.1 124.9M215.1 124.9L213.7 109.9M213.7 109.9L209.5 95.4M209.5 95.4L202.8 81.8M202.8 81.8L193.8 69.6M193.8 69.6L182.7 59.4M182.7 59.4L170.1 51.6M170.1 51.6L156.5 46.3M156.5 46.3L142.3 43.9M218 104.6L213.6 90.3M213.6 90.3L206.4 77.2M206.4 77.2L196.8 65.8M196.8 65.8L185.1 56.4M185.1 56.4L171.8 49.5M171.8 49.5L157.3 45.3M157.3 45.3L142.3 43.9M169 47.4L155.9 44.2M155.9 44.2L142.3 43.9M152.4 43.4L142.3 43.9M147.3 42.8L142.3 43.9M141.5 42.6L142.3 43.9" fill="none" stroke="#10202a" stroke-width="0.45" stroke-opacity="0.9"/>
<path d="M133.9 117.8q-1.9 2.9 0 5.8" fill="none" stroke="#111" stroke-width="1.8" stroke-linecap="round"/>
<path d="M133.9 119H141.8" stroke="#222" stroke-width="0.45"/>
<circle cx="142.6" cy="119.6" r="1.55" fill="#0a0a0a"/>
<circle cx="149.6" cy="119.3" r="1.3" fill="#0a0a0a"/>
<circle cx="146.5" cy="122.8" r="1.75" fill="#0a0a0a"/>
<g font-size="8" fill="#3a3a3a">
<rect x="119.3" y="32.4" width="34.2" height="22.8" rx="1" fill="#fff" fill-opacity="0.93" stroke="#cfcfcf" stroke-width="0.6"/>
<text x="122.6" y="42.5">azi: 180</text><text x="122.6" y="52.1">ele: 45</text>
<circle cx="118.8" cy="57.1" r="1.6" fill="#ea6a50"/><circle cx="118.8" cy="57.1" r="0.85" fill="#1a1410"/>
<rect x="166.2" y="50.6" width="30.2" height="22.8" rx="1" fill="#fff" fill-opacity="0.93" stroke="#cfcfcf" stroke-width="0.6"/>
<text x="169.5" y="60.7">azi: 0</text><text x="169.5" y="70.3">ele: 45</text>
<circle cx="165.7" cy="75.3" r="1.6" fill="#ea6a50"/><circle cx="165.7" cy="75.3" r="0.85" fill="#1a1410"/>
<rect x="212.6" y="89.3" width="29.8" height="22.8" rx="1" fill="#fff" fill-opacity="0.93" stroke="#cfcfcf" stroke-width="0.6"/>
<text x="215.9" y="99.4">azi: 90</text><text x="215.9" y="109">ele: 0</text>
<circle cx="212.1" cy="114" r="1.6" fill="#ea6a50"/><circle cx="212.1" cy="114" r="0.85" fill="#1a1410"/>
<rect x="73" y="101.3" width="32.4" height="22.8" rx="1" fill="#fff" fill-opacity="0.93" stroke="#cfcfcf" stroke-width="0.6"/>
<text x="76.3" y="111.4">azi: -90</text><text x="76.3" y="121">ele: 0</text>
<circle cx="72.5" cy="126" r="1.6" fill="#ea6a50"/><circle cx="72.5" cy="126" r="0.85" fill="#1a1410"/>
<rect x="119.3" y="140.1" width="34.2" height="22.8" rx="1" fill="#fff" fill-opacity="0.93" stroke="#cfcfcf" stroke-width="0.6"/>
<text x="122.6" y="150.2">azi: 180</text><text x="122.6" y="159.8">ele: -45</text>
<circle cx="118.8" cy="164.8" r="1.6" fill="#ea6a50"/><circle cx="118.8" cy="164.8" r="0.85" fill="#1a1410"/>
<rect x="166.2" y="158.2" width="32.9" height="22.8" rx="1" fill="#fff" fill-opacity="0.93" stroke="#cfcfcf" stroke-width="0.6"/>
<text x="169.5" y="168.3">azi: 0</text><text x="169.5" y="177.9">ele: -45</text>
<circle cx="165.7" cy="182.9" r="1.6" fill="#ea6a50"/><circle cx="165.7" cy="182.9" r="0.85" fill="#1a1410"/>
</g>
<path d="M316.3 204.5L316.3 21.9M316.3 204.5L382.9 230.2M351.3 201.5L351.3 18.9M351.3 201.5L417.9 227.2M386.4 198.5L386.4 15.9M386.4 198.5L453 224.2M421.4 195.5L421.4 12.9M421.4 195.5L488 221.2M456.4 192.5L456.4 9.9M456.4 192.5L523 218.2M302.3 190.5L470.4 176.1M470.4 176.1L537 201.8M302.3 152.4L470.4 138M470.4 138L537 163.7M302.3 114.4L470.4 100M470.4 100L537 125.7M302.3 76.3L470.4 61.9M470.4 61.9L537 87.6M302.3 38.3L470.4 23.9M470.4 23.9L537 49.6M470.4 191.3L470.4 8.7M302.3 205.7L470.4 191.3M503.7 204.1L503.7 21.5M335.6 218.5L503.7 204.1M537 217L537 34.4M368.9 231.4L537 217M537 217L537 34.4M470.4 191.3L470.4 8.7" fill="none" stroke="#f0f0f0" stroke-width="0.6"/>
<path d="M302.3 23.1L302.3 205.7L368.9 231.4L537 217M302.3 190.5l-3.6 -0.9M302.3 152.4l-3.6 -0.9M302.3 114.4l-3.6 -0.9M302.3 76.3l-3.6 -0.9M302.3 38.3l-3.6 -0.9M302.3 205.7l-3.4 0.4M335.6 218.5l-3.4 0.4M368.9 231.4l-3.4 0.4M383.8 230.2l2.6 1.9M418.8 227.2l2.6 1.9M453.9 224.2l2.6 1.9M488.9 221.2l2.6 1.9M523.9 218.2l2.6 1.9" fill="none" stroke="#666" stroke-width="0.55"/>
<g font-size="5.3" fill="#1a1a1a" stroke="#1a1a1a" stroke-width="0.15"><text x="296.5" y="191" text-anchor="end">-1</text><text x="296.5" y="152.9" text-anchor="end">-0.5</text><text x="296.5" y="114.9" text-anchor="end">0</text><text x="296.5" y="76.8" text-anchor="end">0.5</text><text x="296.5" y="38.8" text-anchor="end">1</text><text x="295.5" y="211.5" text-anchor="end">-1</text><text x="328.8" y="224.3" text-anchor="end">0</text><text x="362.1" y="237.2" text-anchor="end">1</text><text x="389.6" y="237.8">-1</text><text x="424.6" y="234.8">-0.5</text><text x="459.7" y="231.8">0</text><text x="494.7" y="228.8">0.5</text><text x="529.7" y="225.8">1</text><text x="324" y="242" text-anchor="middle" font-size="5.9">X / metre</text><text x="444" y="244.8" text-anchor="middle" font-size="5.9">Y / metre</text><text transform="translate(284 114.6) rotate(-90)" text-anchor="middle" font-size="5.9">Z / metre</text></g>
<g stroke="none">
<path d="M445.1 121.8L415.8 121L415.7 105.9L445.6 106.7Z" fill="#b0dcf2"/>
<path d="M443.7 136.8L416 136.1L415.8 121L445.1 121.8Z" fill="#afdcf2"/>
<path d="M415.8 121L387 122.3L386.4 107.2L415.7 105.9Z" fill="#afdcf2"/>
<path d="M416 136.1L388.9 137.3L387 122.3L415.8 121Z" fill="#afdcf2"/>
<path d="M445.6 106.7L415.7 105.9L415.8 91.3L445.1 92.1Z" fill="#b0dcf2"/>
<path d="M441.3 151.2L416.4 150.5L416 136.1L443.7 136.8Z" fill="#afdcf2"/>
<path d="M415.7 105.9L386.4 107.2L387 92.6L415.8 91.3Z" fill="#b0dcf2"/>
<path d="M416.4 150.5L392 151.6L388.9 137.3L416 136.1Z" fill="#afdbf2"/>
<path d="M445.1 92.1L415.8 91.3L416 77.8L443.7 78.6Z" fill="#b0ddf2"/>
<path d="M438 164.4L416.9 163.8L416.4 150.5L441.3 151.2Z" fill="#afdbf2"/>
<path d="M467.7 139.5L443.7 136.8L445.1 121.8L470.6 124.6Z" fill="#b0dcf2"/>
<path d="M470.6 124.6L445.1 121.8L445.6 106.7L471.6 109.6Z" fill="#b0dcf2"/>
<path d="M415.8 91.3L387 92.6L388.9 79L416 77.8Z" fill="#b0dcf2"/>
<path d="M416.9 163.8L396.1 164.8L392 151.6L416.4 150.5Z" fill="#aedbf2"/>
<path d="M462.9 153.6L441.3 151.2L443.7 136.8L467.7 139.5Z" fill="#afdcf2"/>
<path d="M471.6 109.6L445.6 106.7L445.1 92.1L470.6 94.9Z" fill="#b1ddf2"/>
<path d="M388.9 137.3L366.5 140.3L363.2 125.5L387 122.3Z" fill="#afdbf2"/>
<path d="M387 122.3L363.2 125.5L362.1 110.5L386.4 107.2Z" fill="#afdcf2"/>
<path d="M392 151.6L371.8 154.3L366.5 140.3L388.9 137.3Z" fill="#aedbf2"/>
<path d="M456.4 166.4L438 164.4L441.3 151.2L462.9 153.6Z" fill="#afdcf2"/>
<path d="M443.7 78.6L416 77.8L416.4 66L441.3 66.7Z" fill="#b1ddf2"/>
<path d="M386.4 107.2L362.1 110.5L363.2 95.8L387 92.6Z" fill="#afdcf2"/>
<path d="M434.1 175.9L417.5 175.4L416.9 163.8L438 164.4Z" fill="#afdbf2"/>
<path d="M470.6 94.9L445.1 92.1L443.7 78.6L467.7 81.2Z" fill="#b1ddf2"/>
<path d="M416 77.8L388.9 79L392 67.1L416.4 66Z" fill="#b0ddf2"/>
<path d="M417.5 175.4L401.2 176.2L396.1 164.8L416.9 163.8Z" fill="#aedbf2"/>
<path d="M396.1 164.8L379 167.1L371.8 154.3L392 151.6Z" fill="#aedbf2"/>
<path d="M387 92.6L363.2 95.8L366.5 82.1L388.9 79Z" fill="#b0dcf2"/>
<path d="M448.5 177.5L434.1 175.9L438 164.4L456.4 166.4Z" fill="#afdcf2"/>
<path d="M467.7 81.2L443.7 78.6L441.3 66.7L462.9 69.1Z" fill="#b2def2"/>
<path d="M401.2 176.2L387.7 178L379 167.1L396.1 164.8Z" fill="#aedbf2"/>
<path d="M441.3 66.7L416.4 66L416.9 56.2L438 56.8Z" fill="#b2def2"/>
<path d="M429.6 185.2L418.1 184.9L417.5 175.4L434.1 175.9Z" fill="#afdbf2"/>
<path d="M416.4 66L392 67.1L396.1 57.1L416.9 56.2Z" fill="#b1ddf2"/>
<path d="M484.4 143.6L467.7 139.5L470.6 124.6L488.4 129Z" fill="#b0ddf2"/>
<path d="M418.1 184.9L406.9 185.4L401.2 176.2L417.5 175.4Z" fill="#aedbf2"/>
<path d="M388.9 79L366.5 82.1L371.8 69.8L392 67.1Z" fill="#b0ddf2"/>
<path d="M477.9 157.3L462.9 153.6L467.7 139.5L484.4 143.6Z" fill="#b0dcf2"/>
<path d="M488.4 129L470.6 124.6L471.6 109.6L489.7 114Z" fill="#b1ddf2"/>
<path d="M469.2 169.6L456.4 166.4L462.9 153.6L477.9 157.3Z" fill="#b0dcf2"/>
<path d="M489.7 114L471.6 109.6L470.6 94.9L488.4 99.3Z" fill="#b2def2"/>
<path d="M439.5 186.3L429.6 185.2L434.1 175.9L448.5 177.5Z" fill="#afdcf2"/>
<path d="M406.9 185.4L397.6 186.7L387.7 178L401.2 176.2Z" fill="#aedbf2"/>
<path d="M366.5 140.3L352.1 144.7L348 130.1L363.2 125.5Z" fill="#afdbf2"/>
<path d="M462.9 69.1L441.3 66.7L438 56.8L456.4 58.8Z" fill="#b4dff2"/>
<path d="M371.8 154.3L358.9 158.3L352.1 144.7L366.5 140.3Z" fill="#aedbf2"/>
<path d="M363.2 125.5L348 130.1L346.6 115.2L362.1 110.5Z" fill="#afdcf2"/>
<path d="M458.6 180L448.5 177.5L456.4 166.4L469.2 169.6Z" fill="#afdcf2"/>
<path d="M488.4 99.3L470.6 94.9L467.7 81.2L484.4 85.4Z" fill="#b3def2"/>
<path d="M379 167.1L368 170.4L358.9 158.3L371.8 154.3Z" fill="#aedbf2"/>
<path d="M392 67.1L371.8 69.8L379 59.4L396.1 57.1Z" fill="#b1ddf2"/>
<path d="M362.1 110.5L346.6 115.2L348 100.4L363.2 95.8Z" fill="#afdcf2"/>
<path d="M438 56.8L416.9 56.2L417.5 48.9L434.1 49.3Z" fill="#b4dff2"/>
<path d="M387.7 178L379.1 180.6L368 170.4L379 167.1Z" fill="#aedbf2"/>
<path d="M424.7 192.1L418.9 191.9L418.1 184.9L429.6 185.2Z" fill="#afdbf2"/>
<path d="M416.9 56.2L396.1 57.1L401.2 49.6L417.5 48.9Z" fill="#b3def2"/>
<path d="M418.9 191.9L413.2 192.2L406.9 185.4L418.1 184.9Z" fill="#aedbf2"/>
<path d="M446.5 188L439.5 186.3L448.5 177.5L458.6 180Z" fill="#afdcf2"/>
<path d="M484.4 85.4L467.7 81.2L462.9 69.1L477.9 72.8Z" fill="#b5e0f1"/>
<path d="M363.2 95.8L348 100.4L352.1 86.4L366.5 82.1Z" fill="#b0dcf2"/>
<path d="M429.8 192.6L424.7 192.1L429.6 185.2L439.5 186.3Z" fill="#abdaf1"/>
<path d="M413.2 192.2L408.4 192.8L397.6 186.7L406.9 185.4Z" fill="#a8d8f1"/>
<path d="M397.6 186.7L391.7 188.5L379.1 180.6L387.7 178Z" fill="#a8d8f1"/>
<path d="M456.4 58.8L438 56.8L434.1 49.3L448.5 50.9Z" fill="#b2e0ee"/>
<path d="M366.5 82.1L352.1 86.4L358.9 73.7L371.8 69.8Z" fill="#a6d8f0"/>
<path d="M396.1 57.1L379 59.4L387.7 51.4L401.2 49.6Z" fill="#a6d9f0"/>
<path d="M433.3 193.5L429.8 192.6L439.5 186.3L446.5 188Z" fill="#9ed4ef"/>
<path d="M477.9 72.8L462.9 69.1L456.4 58.8L469.2 62Z" fill="#b0e2e8"/>
<path d="M408.4 192.8L405.4 193.7L391.7 188.5L397.6 186.7Z" fill="#9ad2ef"/>
<path d="M474.4 173.4L469.2 169.6L477.9 157.3L484.1 161.8Z" fill="#9dd4ef"/>
<path d="M484.1 161.8L477.9 157.3L484.4 143.6L491.2 148.6Z" fill="#9ed5ef"/>
<path d="M462.7 183L458.6 180L469.2 169.6L474.4 173.4Z" fill="#9ad2ee"/>
<path d="M434.1 49.3L417.5 48.9L418.1 44.3L429.6 44.6Z" fill="#a4dbe9"/>
<path d="M491.2 148.6L484.4 143.6L488.4 129L495.6 134.3Z" fill="#9ed5ef"/>
<path d="M417.5 48.9L401.2 49.6L406.9 44.8L418.1 44.3Z" fill="#9ed7ec"/>
<path d="M419.7 196.1L418.9 191.9L424.7 192.1Z" fill="#97d1ee"/>
<path d="M419.7 196.1L413.2 192.2L418.9 191.9Z" fill="#97d1ee"/>
<path d="M449.3 190.1L446.5 188L458.6 180L462.7 183Z" fill="#95d0ee"/>
<path d="M371.8 69.8L358.9 73.7L368 62.8L379 59.4Z" fill="#99d3ee"/>
<path d="M419.7 196.1L424.7 192.1L429.8 192.6Z" fill="#94d0ee"/>
<path d="M419.7 196.1L408.4 192.8L413.2 192.2Z" fill="#94d0ee"/>
<path d="M495.6 134.3L488.4 129L489.7 114L497.1 119.4Z" fill="#9dd5ee"/>
<path d="M434.8 194.5L433.3 193.5L446.5 188L449.3 190.1Z" fill="#95d0ee"/>
<path d="M419.7 196.1L429.8 192.6L433.3 193.5Z" fill="#94d0ee"/>
<path d="M419.7 196.1L405.4 193.7L408.4 192.8Z" fill="#94d0ee"/>
<path d="M379.1 180.6L376.6 183.7L364.9 174.3L368 170.4Z" fill="#94d0ee"/>
<path d="M448.5 50.9L434.1 49.3L429.6 44.6L439.5 45.7Z" fill="#a8dfe1"/>
<path d="M391.7 188.5L390 190.6L376.6 183.7L379.1 180.6Z" fill="#94d0ee"/>
<path d="M368 170.4L364.9 174.3L355.3 162.8L358.9 158.3Z" fill="#94d0ee"/>
<path d="M469.2 62L456.4 58.8L448.5 50.9L458.6 53.4Z" fill="#a9e0df"/>
<path d="M497.1 119.4L489.7 114L488.4 99.3L495.6 104.6Z" fill="#9bd4ee"/>
<path d="M405.4 193.7L404.5 194.8L390 190.6L391.7 188.5Z" fill="#94d0ee"/>
<path d="M358.9 158.3L355.3 162.8L348.1 149.7L352.1 144.7Z" fill="#94d0ee"/>
<path d="M419.7 196.1L433.3 193.5L434.8 194.5Z" fill="#95d0ee"/>
<path d="M401.2 49.6L387.7 51.4L397.6 46.1L406.9 44.8Z" fill="#9cd5ed"/>
<path d="M419.7 196.1L404.5 194.8L405.4 193.7Z" fill="#94d0ee"/>
<path d="M352.1 144.7L348.1 149.7L343.7 135.5L348 130.1Z" fill="#95d0ee"/>
<path d="M495.6 104.6L488.4 99.3L484.4 85.4L491.2 90.3Z" fill="#a1dae9"/>
<path d="M379 59.4L368 62.8L379.1 54.1L387.7 51.4Z" fill="#99d3ee"/>
<path d="M419.7 196.1L434.8 194.5L433.9 195.6Z" fill="#95d0ee"/>
<path d="M419.7 196.1L406 195.8L404.5 194.8Z" fill="#94d0ee"/>
<path d="M348 130.1L343.7 135.5L342.2 120.7L346.6 115.2Z" fill="#95d0ee"/>
<path d="M433.9 195.6L434.8 194.5L449.3 190.1L447.6 192.2Z" fill="#95d0ee"/>
<path d="M419.7 196.1L433.9 195.6L430.9 196.5Z" fill="#95d0ee"/>
<path d="M419.7 196.1L409.5 196.7L406 195.8Z" fill="#94d0ee"/>
<path d="M491.2 90.3L484.4 85.4L477.9 72.8L484.1 77.2Z" fill="#a8dfe1"/>
<path d="M346.6 115.2L342.2 120.7L343.7 105.8L348 100.4Z" fill="#95d1ee"/>
<path d="M458.6 53.4L448.5 50.9L439.5 45.7L446.5 47.4Z" fill="#abe0db"/>
<path d="M404.5 194.8L406 195.8L392.9 192.6L390 190.6Z" fill="#94d0ee"/>
<path d="M419.7 196.1L430.9 196.5L426.2 197.2Z" fill="#95d0ee"/>
<path d="M429.6 44.6L418.1 44.3L418.9 42.6L424.7 42.8Z" fill="#a9e0df"/>
<path d="M419.7 196.1L414.6 197.3L409.5 196.7Z" fill="#95d0ee"/>
<path d="M418.1 44.3L406.9 44.8L413.2 42.9L418.9 42.6Z" fill="#a8dfe2"/>
<path d="M447.6 192.2L449.3 190.1L462.7 183L460.3 186Z" fill="#96d1ee"/>
<path d="M419.7 196.1L426.2 197.2L420.4 197.4Z" fill="#95d0ee"/>
<path d="M419.7 196.1L420.4 197.4L414.6 197.3Z" fill="#95d0ee"/>
<path d="M348 100.4L343.7 105.8L348.1 91.5L352.1 86.4Z" fill="#96d1ee"/>
<path d="M387.7 51.4L379.1 54.1L391.7 47.9L397.6 46.1Z" fill="#9bd5ee"/>
<path d="M484.1 77.2L477.9 72.8L469.2 62L474.4 65.8Z" fill="#abe0dc"/>
<path d="M439.5 45.7L429.6 44.6L424.7 42.8L429.8 43.4Z" fill="#abe0dc"/>
<path d="M460.3 186L462.7 183L474.4 173.4L471.3 177.3Z" fill="#96d1ee"/>
<path d="M390 190.6L392.9 192.6L380.7 186.6L376.6 183.7Z" fill="#94d0ee"/>
<path d="M406.9 44.8L397.6 46.1L408.4 43.5L413.2 42.9Z" fill="#a7dfe4"/>
<path d="M352.1 86.4L348.1 91.5L355.3 78.3L358.9 73.7Z" fill="#97d1ee"/>
<path d="M430.9 196.5L433.9 195.6L447.6 192.2L441.7 194Z" fill="#95d0ee"/>
<path d="M471.3 177.3L474.4 173.4L484.1 161.8L480.4 166.3Z" fill="#97d1ee"/>
<path d="M474.4 65.8L469.2 62L458.6 53.4L462.7 56.4Z" fill="#ace1d9"/>
<path d="M406 195.8L409.5 196.7L399.8 194.3L392.9 192.6Z" fill="#94d0ee"/>
</g>
<g stroke="none">
<path d="M446.5 47.4L439.5 45.7L429.8 43.4L433.3 44.2Z" fill="#b1e3d0" fill-opacity="0.8"/>
<path d="M376.6 183.7L380.7 186.6L370.1 178.1L364.9 174.3Z" fill="#95d0ee" fill-opacity="0.8"/>
<path d="M358.9 73.7L355.3 78.3L364.9 66.7L368 62.8Z" fill="#9ad3ee" fill-opacity="0.8"/>
<path d="M397.6 46.1L391.7 47.9L405.4 44.4L408.4 43.5Z" fill="#aae0de" fill-opacity="0.8"/>
<path d="M480.4 166.3L484.1 161.8L491.2 148.6L487.2 153.6Z" fill="#99d3ee" fill-opacity="0.8"/>
<path d="M426.2 197.2L430.9 196.5L441.7 194L432.4 195.3Z" fill="#95d1ee" fill-opacity="0.8"/>
<path d="M462.7 56.4L458.6 53.4L446.5 47.4L449.3 49.5Z" fill="#b5e4c9" fill-opacity="0.8"/>
<path d="M368 62.8L364.9 66.7L376.6 57.1L379.1 54.1Z" fill="#9cd5ed" fill-opacity="0.8"/>
<path d="M409.5 196.7L414.6 197.3L409.7 195.4L399.8 194.3Z" fill="#95d0ee" fill-opacity="0.8"/>
<path d="M364.9 174.3L370.1 178.1L361.4 167.3L355.3 162.8Z" fill="#95d0ee" fill-opacity="0.8"/>
<path d="M441.7 194L447.6 192.2L460.3 186L451.6 188.6Z" fill="#96d1ee" fill-opacity="0.8"/>
<path d="M487.2 153.6L491.2 148.6L495.6 134.3L491.3 139.6Z" fill="#9cd5ed" fill-opacity="0.8"/>
<path d="M424.7 42.8L418.9 42.6L419.7 43.9Z" fill="#aee2d6" fill-opacity="0.8"/>
<path d="M418.9 42.6L413.2 42.9L419.7 43.9Z" fill="#ade1d8" fill-opacity="0.8"/>
<path d="M379.1 54.1L376.6 57.1L390 50L391.7 47.9Z" fill="#a5dde6" fill-opacity="0.8"/>
<path d="M420.4 197.4L426.2 197.2L432.4 195.3L421.2 195.8Z" fill="#95d0ee" fill-opacity="0.8"/>
<path d="M429.8 43.4L424.7 42.8L419.7 43.9Z" fill="#afe2d4" fill-opacity="0.8"/>
<path d="M414.6 197.3L420.4 197.4L421.2 195.8L409.7 195.4Z" fill="#95d0ee" fill-opacity="0.8"/>
<path d="M413.2 42.9L408.4 43.5L419.7 43.9Z" fill="#ade1d9" fill-opacity="0.8"/>
<path d="M449.3 49.5L446.5 47.4L433.3 44.2L434.8 45.3Z" fill="#b4e4cc" fill-opacity="0.8"/>
<path d="M392.9 192.6L399.8 194.3L390.8 189.1L380.7 186.6Z" fill="#95d0ee" fill-opacity="0.8"/>
<path d="M491.3 139.6L495.6 134.3L497.1 119.4L492.7 124.9Z" fill="#a6dee4" fill-opacity="0.8"/>
<path d="M355.3 162.8L361.4 167.3L354.9 154.7L348.1 149.7Z" fill="#95d0ee" fill-opacity="0.8"/>
<path d="M433.3 44.2L429.8 43.4L419.7 43.9Z" fill="#b0e3d2" fill-opacity="0.8"/>
<path d="M408.4 43.5L405.4 44.4L419.7 43.9Z" fill="#ade1d9" fill-opacity="0.8"/>
<path d="M391.7 47.9L390 50L404.5 45.5L405.4 44.4Z" fill="#aae0de" fill-opacity="0.8"/>
<path d="M492.7 124.9L497.1 119.4L495.6 104.6L491.3 109.9Z" fill="#abe0dc" fill-opacity="0.8"/>
<path d="M434.8 45.3L433.3 44.2L419.7 43.9Z" fill="#b2e3d0" fill-opacity="0.8"/>
<path d="M405.4 44.4L404.5 45.5L419.7 43.9Z" fill="#ade1d8" fill-opacity="0.8"/>
<path d="M451.6 188.6L460.3 186L471.3 177.3L460.4 180.6Z" fill="#97d1ee" fill-opacity="0.8"/>
<path d="M348.1 149.7L354.9 154.7L351 140.8L343.7 135.5Z" fill="#96d1ee" fill-opacity="0.8"/>
<path d="M491.3 109.9L495.6 104.6L491.2 90.3L487.2 95.4Z" fill="#afe2d4" fill-opacity="0.8"/>
<path d="M433.9 46.3L434.8 45.3L419.7 43.9Z" fill="#b3e4cd" fill-opacity="0.8"/>
<path d="M432.4 195.3L441.7 194L451.6 188.6L438.2 190.4Z" fill="#96d1ee" fill-opacity="0.8"/>
<path d="M404.5 45.5L406 46.6L419.7 43.9Z" fill="#aee2d6" fill-opacity="0.8"/>
<path d="M487.2 95.4L491.2 90.3L484.1 77.2L480.4 81.8Z" fill="#b4e4cc" fill-opacity="0.8"/>
<path d="M447.6 51.6L449.3 49.5L434.8 45.3L433.9 46.3Z" fill="#b7e4c7" fill-opacity="0.8"/>
<path d="M343.7 135.5L351 140.8L349.6 126L342.2 120.7Z" fill="#96d1ee" fill-opacity="0.8"/>
<path d="M380.7 186.6L390.8 189.1L382.9 181.2L370.1 178.1Z" fill="#95d0ee" fill-opacity="0.8"/>
<path d="M480.4 81.8L484.1 77.2L474.4 65.8L471.3 69.6Z" fill="#b8e5c5" fill-opacity="0.8"/>
<path d="M460.3 59.4L462.7 56.4L449.3 49.5L447.6 51.6Z" fill="#bae5c2" fill-opacity="0.8"/>
<path d="M399.8 194.3L409.7 195.4L405.2 190.7L390.8 189.1Z" fill="#95d0ee" fill-opacity="0.8"/>
<path d="M471.3 69.6L474.4 65.8L462.7 56.4L460.3 59.4Z" fill="#bae6c1" fill-opacity="0.8"/>
<path d="M430.9 47.3L433.9 46.3L419.7 43.9Z" fill="#b4e4cb" fill-opacity="0.8"/>
<path d="M406 46.6L409.5 47.4L419.7 43.9Z" fill="#afe3d4" fill-opacity="0.8"/>
<path d="M390 50L392.9 52L406 46.6L404.5 45.5Z" fill="#abe0db" fill-opacity="0.8"/>
<path d="M342.2 120.7L349.6 126L351 111.1L343.7 105.8Z" fill="#9bd3ee" fill-opacity="0.8"/>
<path d="M426.2 47.9L430.9 47.3L419.7 43.9Z" fill="#b4e4cb" fill-opacity="0.8"/>
<path d="M409.5 47.4L414.6 48L419.7 43.9Z" fill="#b1e3d1" fill-opacity="0.8"/>
<path d="M460.4 180.6L471.3 177.3L480.4 166.3L467.5 170.3Z" fill="#9ad3ee" fill-opacity="0.8"/>
<path d="M376.6 57.1L380.7 60.1L392.9 52L390 50Z" fill="#a8e0e1" fill-opacity="0.8"/>
<path d="M420.4 48.2L426.2 47.9L419.7 43.9Z" fill="#b6e4cd" fill-opacity="0.8"/>
<path d="M414.6 48L420.4 48.2L419.7 43.9Z" fill="#b5e4cf" fill-opacity="0.8"/>
<path d="M421.2 195.8L432.4 195.3L438.2 190.4L421.9 191.2Z" fill="#97d1ee" fill-opacity="0.8"/>
<path d="M343.7 105.8L351 111.1L354.9 96.5L348.1 91.5Z" fill="#9ed5ef" fill-opacity="0.8"/>
<path d="M409.7 195.4L421.2 195.8L421.9 191.2L405.2 190.7Z" fill="#98d2ee" fill-opacity="0.8"/>
<path d="M364.9 66.7L370.1 70.5L380.7 60.1L376.6 57.1Z" fill="#a4dbeb" fill-opacity="0.8"/>
<path d="M348.1 91.5L354.9 96.5L361.4 82.7L355.3 78.3Z" fill="#a0d6ef" fill-opacity="0.8"/>
<path d="M355.3 78.3L361.4 82.7L370.1 70.5L364.9 66.7Z" fill="#a1d7ef" fill-opacity="0.8"/>
<path d="M441.7 53.4L447.6 51.6L433.9 46.3L430.9 47.3Z" fill="#bde7c6" fill-opacity="0.8"/>
<path d="M370.1 178.1L382.9 181.2L376.4 171L361.4 167.3Z" fill="#a2d6f0" fill-opacity="0.8"/>
<path d="M392.9 52L399.8 53.7L409.5 47.4L406 46.6Z" fill="#b5e4da" fill-opacity="0.8"/>
<path d="M438.2 190.4L451.6 188.6L460.4 180.6L443.2 182.9Z" fill="#a4d7f0" fill-opacity="0.8"/>
<path d="M467.5 170.3L480.4 166.3L487.2 153.6L472.8 158Z" fill="#a9daf0" fill-opacity="0.8"/>
<path d="M390.8 189.1L405.2 190.7L401.3 183.3L382.9 181.2Z" fill="#a9d9f1" fill-opacity="0.8"/>
<path d="M451.6 62.1L460.3 59.4L447.6 51.6L441.7 53.4Z" fill="#caebc7" fill-opacity="0.8"/>
<path d="M432.4 54.6L441.7 53.4L430.9 47.3L426.2 47.9Z" fill="#c7eacc" fill-opacity="0.8"/>
<path d="M399.8 53.7L409.7 54.8L414.6 48L409.5 47.4Z" fill="#c2e9da" fill-opacity="0.8"/>
<path d="M472.8 158L487.2 153.6L491.3 139.6L476.1 144.3Z" fill="#b7e2f0" fill-opacity="0.8"/>
<path d="M361.4 167.3L376.4 171L371.6 158.8L354.9 154.7Z" fill="#b0dcf2" fill-opacity="0.8"/>
<path d="M380.7 60.1L390.8 62.6L399.8 53.7L392.9 52Z" fill="#c0e8e3" fill-opacity="0.8"/>
<path d="M421.2 55.1L432.4 54.6L426.2 47.9L420.4 48.2Z" fill="#caebd2" fill-opacity="0.8"/>
<path d="M421.9 191.2L438.2 190.4L443.2 182.9L422.5 183.9Z" fill="#b0ddf2" fill-opacity="0.8"/>
<path d="M409.7 54.8L421.2 55.1L420.4 48.2L414.6 48Z" fill="#c8ebd7" fill-opacity="0.8"/>
<path d="M460.4 73L471.3 69.6L460.3 59.4L451.6 62.1Z" fill="#ceedca" fill-opacity="0.8"/>
<path d="M405.2 190.7L421.9 191.2L422.5 183.9L401.3 183.3Z" fill="#b0dcf2" fill-opacity="0.8"/>
<path d="M476.1 144.3L491.3 139.6L492.7 124.9L477.2 129.6Z" fill="#bfe8e7" fill-opacity="0.8"/>
<path d="M443.2 182.9L460.4 180.6L467.5 170.3L447.3 173Z" fill="#b1ddf2" fill-opacity="0.8"/>
<path d="M467.5 85.7L480.4 81.8L471.3 69.6L460.4 73Z" fill="#ceedcb" fill-opacity="0.8"/>
<path d="M354.9 154.7L371.6 158.8L368.7 145.1L351 140.8Z" fill="#b0ddf2" fill-opacity="0.8"/>
<path d="M370.1 70.5L382.9 73.6L390.8 62.6L380.7 60.1Z" fill="#bee7e7" fill-opacity="0.8"/>
<path d="M477.2 129.6L492.7 124.9L491.3 109.9L476.1 114.6Z" fill="#c2e9e0" fill-opacity="0.8"/>
<path d="M472.8 99.8L487.2 95.4L480.4 81.8L467.5 85.7Z" fill="#cbecd0" fill-opacity="0.8"/>
<path d="M382.9 181.2L401.3 183.3L398.1 173.4L376.4 171Z" fill="#b0dcf2" fill-opacity="0.8"/>
<path d="M476.1 114.6L491.3 109.9L487.2 95.4L472.8 99.8Z" fill="#c7ebd8" fill-opacity="0.8"/>
<path d="M438.2 63.9L451.6 62.1L441.7 53.4L432.4 54.6Z" fill="#ceedca" fill-opacity="0.8"/>
<path d="M390.8 62.6L405.2 64.2L409.7 54.8L399.8 53.7Z" fill="#c4eadd" fill-opacity="0.8"/>
<path d="M351 140.8L368.7 145.1L367.7 130.5L349.6 126Z" fill="#b1ddf2" fill-opacity="0.8"/>
<path d="M361.4 82.7L376.4 86.4L382.9 73.6L370.1 70.5Z" fill="#bbe5ec" fill-opacity="0.8"/>
<path d="M349.6 126L367.7 130.5L368.7 115.4L351 111.1Z" fill="#b2ddf2" fill-opacity="0.8"/>
<path d="M354.9 96.5L371.6 100.6L376.4 86.4L361.4 82.7Z" fill="#b5e0f2" fill-opacity="0.8"/>
<path d="M447.3 173L467.5 170.3L472.8 158L450.4 161Z" fill="#b3dff2" fill-opacity="0.8"/>
<path d="M421.9 64.6L438.2 63.9L432.4 54.6L421.2 55.1Z" fill="#cdedcd" fill-opacity="0.8"/>
<path d="M351 111.1L368.7 115.4L371.6 100.6L354.9 96.5Z" fill="#b3def2" fill-opacity="0.8"/>
<path d="M422.5 183.9L443.2 182.9L447.3 173L423 174.1Z" fill="#b1ddf2" fill-opacity="0.8"/>
<path d="M405.2 64.2L421.9 64.6L421.2 55.1L409.7 54.8Z" fill="#c9ebd4" fill-opacity="0.8"/>
<path d="M401.3 183.3L422.5 183.9L423 174.1L398.1 173.4Z" fill="#b1ddf2" fill-opacity="0.8"/>
<path d="M443.2 75.3L460.4 73L451.6 62.1L438.2 63.9Z" fill="#cfeec9" fill-opacity="0.8"/>
<path d="M376.4 171L398.1 173.4L395.7 161.5L371.6 158.8Z" fill="#b1ddf2" fill-opacity="0.8"/>
<path d="M382.9 73.6L401.3 75.6L405.2 64.2L390.8 62.6Z" fill="#c3e9e0" fill-opacity="0.8"/>
<path d="M450.4 161L472.8 158L476.1 144.3L452.3 147.5Z" fill="#b8e3ef" fill-opacity="0.8"/>
<path d="M447.3 88.4L467.5 85.7L460.4 73L443.2 75.3Z" fill="#cfeeca" fill-opacity="0.8"/>
<path d="M422.5 76.2L443.2 75.3L438.2 63.9L421.9 64.6Z" fill="#ceedcb" fill-opacity="0.8"/>
<path d="M423 174.1L447.3 173L450.4 161L423.3 162.2Z" fill="#b3def2" fill-opacity="0.8"/>
<path d="M371.6 158.8L395.7 161.5L394.2 147.9L368.7 145.1Z" fill="#b1ddf2" fill-opacity="0.8"/>
<path d="M401.3 75.6L422.5 76.2L421.9 64.6L405.2 64.2Z" fill="#c8ebd5" fill-opacity="0.8"/>
<path d="M452.3 147.5L476.1 144.3L477.2 129.6L453 132.9Z" fill="#bfe8e6" fill-opacity="0.8"/>
<path d="M398.1 173.4L423 174.1L423.3 162.2L395.7 161.5Z" fill="#b1ddf2" fill-opacity="0.8"/>
<path d="M376.4 86.4L398.1 88.8L401.3 75.6L382.9 73.6Z" fill="#c0e8e3" fill-opacity="0.8"/>
<path d="M450.4 102.8L472.8 99.8L467.5 85.7L447.3 88.4Z" fill="#cdedcd" fill-opacity="0.8"/>
<path d="M453 132.9L477.2 129.6L476.1 114.6L452.3 117.8Z" fill="#c3eadf" fill-opacity="0.8"/>
<path d="M452.3 117.8L476.1 114.6L472.8 99.8L450.4 102.8Z" fill="#c8ebd6" fill-opacity="0.8"/>
<path d="M368.7 145.1L394.2 147.9L393.7 133.4L367.7 130.5Z" fill="#b2def2" fill-opacity="0.8"/>
<path d="M371.6 100.6L395.7 103.2L398.1 88.8L376.4 86.4Z" fill="#bee7e7" fill-opacity="0.8"/>
<path d="M423 89.5L447.3 88.4L443.2 75.3L422.5 76.2Z" fill="#cdeccd" fill-opacity="0.8"/>
<path d="M423.3 162.2L450.4 161L452.3 147.5L423.5 148.8Z" fill="#b5e0f1" fill-opacity="0.8"/>
<path d="M367.7 130.5L393.7 133.4L394.2 118.3L368.7 115.4Z" fill="#b4dff2" fill-opacity="0.8"/>
<path d="M368.7 115.4L394.2 118.3L395.7 103.2L371.6 100.6Z" fill="#b9e4ee" fill-opacity="0.8"/>
<path d="M398.1 88.8L423 89.5L422.5 76.2L401.3 75.6Z" fill="#c6ead9" fill-opacity="0.8"/>
<path d="M395.7 161.5L423.3 162.2L423.5 148.8L394.2 147.9Z" fill="#b3def2" fill-opacity="0.8"/>
<path d="M423.3 104L450.4 102.8L447.3 88.4L423 89.5Z" fill="#c9ebd3" fill-opacity="0.8"/>
<path d="M423.5 148.8L452.3 147.5L453 132.9L423.6 134.2Z" fill="#bee7e9" fill-opacity="0.8"/>
<path d="M395.7 103.2L423.3 104L423 89.5L398.1 88.8Z" fill="#c3eade" fill-opacity="0.8"/>
<path d="M394.2 147.9L423.5 148.8L423.6 134.2L393.7 133.4Z" fill="#b6e1f1" fill-opacity="0.8"/>
<path d="M423.5 119.1L452.3 117.8L450.4 102.8L423.3 104Z" fill="#c5eadb" fill-opacity="0.8"/>
<path d="M423.6 134.2L453 132.9L452.3 117.8L423.5 119.1Z" fill="#c1e9e2" fill-opacity="0.8"/>
<path d="M394.2 118.3L423.5 119.1L423.3 104L395.7 103.2Z" fill="#c0e8e4" fill-opacity="0.8"/>
<path d="M393.7 133.4L423.6 134.2L423.5 119.1L394.2 118.3Z" fill="#bee7e9" fill-opacity="0.8"/>
</g>
<path d="M413.2 192.2L408.4 192.8M408.4 192.8L405.4 193.7M405.4 193.7L404.5 194.8M404.5 194.8L406 195.8M406 195.8L409.5 196.7M409.5 196.7L414.6 197.3M426.2 197.2L430.9 196.5M430.9 196.5L433.9 195.6M433.9 195.6L434.8 194.5M434.8 194.5L433.3 193.5M433.3 193.5L429.8 192.6M429.8 192.6L424.7 192.1M424.7 192.1L418.9 191.9M418.9 191.9L413.2 192.2M406.9 185.4L397.6 186.7M397.6 186.7L391.7 188.5M391.7 188.5L390 190.6M390 190.6L392.9 192.6M447.6 192.2L449.3 190.1M449.3 190.1L446.5 188M446.5 188L439.5 186.3M439.5 186.3L429.6 185.2M429.6 185.2L418.1 184.9M418.1 184.9L406.9 185.4M401.2 176.2L387.7 178M387.7 178L379.1 180.6M379.1 180.6L376.6 183.7M376.6 183.7L380.7 186.6M460.3 186L462.7 183M462.7 183L458.6 180M458.6 180L448.5 177.5M448.5 177.5L434.1 175.9M434.1 175.9L417.5 175.4M417.5 175.4L401.2 176.2M396.1 164.8L379 167.1M379 167.1L368 170.4M368 170.4L364.9 174.3M471.3 177.3L474.4 173.4M474.4 173.4L469.2 169.6M469.2 169.6L456.4 166.4M456.4 166.4L438 164.4M438 164.4L416.9 163.8M416.9 163.8L396.1 164.8M392 151.6L371.8 154.3M371.8 154.3L358.9 158.3M358.9 158.3L355.3 162.8M484.1 161.8L477.9 157.3M477.9 157.3L462.9 153.6M462.9 153.6L441.3 151.2M441.3 151.2L416.4 150.5M416.4 150.5L392 151.6M388.9 137.3L366.5 140.3M366.5 140.3L352.1 144.7M352.1 144.7L348.1 149.7M491.2 148.6L484.4 143.6M484.4 143.6L467.7 139.5M467.7 139.5L443.7 136.8M443.7 136.8L416 136.1M416 136.1L388.9 137.3M387 122.3L363.2 125.5M363.2 125.5L348 130.1M348 130.1L343.7 135.5M495.6 134.3L488.4 129M488.4 129L470.6 124.6M470.6 124.6L445.1 121.8M445.1 121.8L415.8 121M415.8 121L387 122.3M386.4 107.2L362.1 110.5M362.1 110.5L346.6 115.2M346.6 115.2L342.2 120.7M497.1 119.4L489.7 114M489.7 114L471.6 109.6M471.6 109.6L445.6 106.7M445.6 106.7L415.7 105.9M415.7 105.9L386.4 107.2M387 92.6L363.2 95.8M363.2 95.8L348 100.4M348 100.4L343.7 105.8M495.6 104.6L488.4 99.3M488.4 99.3L470.6 94.9M470.6 94.9L445.1 92.1M445.1 92.1L415.8 91.3M415.8 91.3L387 92.6M388.9 79L366.5 82.1M366.5 82.1L352.1 86.4M352.1 86.4L348.1 91.5M491.2 90.3L484.4 85.4M484.4 85.4L467.7 81.2M467.7 81.2L443.7 78.6M443.7 78.6L416 77.8M416 77.8L388.9 79M392 67.1L371.8 69.8M371.8 69.8L358.9 73.7M358.9 73.7L355.3 78.3M484.1 77.2L477.9 72.8M477.9 72.8L462.9 69.1M462.9 69.1L441.3 66.7M441.3 66.7L416.4 66M416.4 66L392 67.1M396.1 57.1L379 59.4M379 59.4L368 62.8M474.4 65.8L469.2 62M469.2 62L456.4 58.8M456.4 58.8L438 56.8M438 56.8L416.9 56.2M416.9 56.2L396.1 57.1M401.2 49.6L387.7 51.4M387.7 51.4L379.1 54.1M458.6 53.4L448.5 50.9M448.5 50.9L434.1 49.3M434.1 49.3L417.5 48.9M417.5 48.9L401.2 49.6M406.9 44.8L397.6 46.1M397.6 46.1L391.7 47.9M446.5 47.4L439.5 45.7M439.5 45.7L429.6 44.6M429.6 44.6L418.1 44.3M418.1 44.3L406.9 44.8M424.7 42.8L418.9 42.6M418.9 42.6L413.2 42.9M419.7 196.1L413.2 192.2M413.2 192.2L406.9 185.4M406.9 185.4L401.2 176.2M401.2 176.2L396.1 164.8M396.1 164.8L392 151.6M392 151.6L388.9 137.3M388.9 137.3L387 122.3M387 122.3L386.4 107.2M386.4 107.2L387 92.6M387 92.6L388.9 79M388.9 79L392 67.1M392 67.1L396.1 57.1M396.1 57.1L401.2 49.6M401.2 49.6L406.9 44.8M406.9 44.8L413.2 42.9M419.7 196.1L408.4 192.8M408.4 192.8L397.6 186.7M397.6 186.7L387.7 178M387.7 178L379 167.1M379 167.1L371.8 154.3M371.8 154.3L366.5 140.3M366.5 140.3L363.2 125.5M363.2 125.5L362.1 110.5M362.1 110.5L363.2 95.8M363.2 95.8L366.5 82.1M366.5 82.1L371.8 69.8M371.8 69.8L379 59.4M379 59.4L387.7 51.4M387.7 51.4L397.6 46.1M397.6 46.1L408.4 43.5M419.7 196.1L405.4 193.7M405.4 193.7L391.7 188.5M391.7 188.5L379.1 180.6M379.1 180.6L368 170.4M368 170.4L358.9 158.3M358.9 158.3L352.1 144.7M352.1 144.7L348 130.1M348 130.1L346.6 115.2M346.6 115.2L348 100.4M348 100.4L352.1 86.4M352.1 86.4L358.9 73.7M358.9 73.7L368 62.8M368 62.8L379.1 54.1M419.7 196.1L404.5 194.8M404.5 194.8L390 190.6M390 190.6L376.6 183.7M376.6 183.7L364.9 174.3M364.9 174.3L355.3 162.8M355.3 162.8L348.1 149.7M348.1 149.7L343.7 135.5M419.7 196.1L406 195.8M406 195.8L392.9 192.6M419.7 196.1L409.5 196.7M419.7 196.1L414.6 197.3M419.7 196.1L420.4 197.4M419.7 196.1L426.2 197.2M419.7 196.1L430.9 196.5M419.7 196.1L433.9 195.6M433.9 195.6L447.6 192.2M447.6 192.2L460.3 186M419.7 196.1L434.8 194.5M434.8 194.5L449.3 190.1M449.3 190.1L462.7 183M462.7 183L474.4 173.4M474.4 173.4L484.1 161.8M484.1 161.8L491.2 148.6M491.2 148.6L495.6 134.3M495.6 134.3L497.1 119.4M497.1 119.4L495.6 104.6M419.7 196.1L433.3 193.5M433.3 193.5L446.5 188M446.5 188L458.6 180M458.6 180L469.2 169.6M469.2 169.6L477.9 157.3M477.9 157.3L484.4 143.6M484.4 143.6L488.4 129M488.4 129L489.7 114M489.7 114L488.4 99.3M488.4 99.3L484.4 85.4M484.4 85.4L477.9 72.8M477.9 72.8L469.2 62M469.2 62L458.6 53.4M458.6 53.4L446.5 47.4M419.7 196.1L429.8 192.6M429.8 192.6L439.5 186.3M439.5 186.3L448.5 177.5M448.5 177.5L456.4 166.4M456.4 166.4L462.9 153.6M462.9 153.6L467.7 139.5M467.7 139.5L470.6 124.6M470.6 124.6L471.6 109.6M471.6 109.6L470.6 94.9M470.6 94.9L467.7 81.2M467.7 81.2L462.9 69.1M462.9 69.1L456.4 58.8M456.4 58.8L448.5 50.9M448.5 50.9L439.5 45.7M439.5 45.7L429.8 43.4M419.7 196.1L424.7 192.1M424.7 192.1L429.6 185.2M429.6 185.2L434.1 175.9M434.1 175.9L438 164.4M438 164.4L441.3 151.2M441.3 151.2L443.7 136.8M443.7 136.8L445.1 121.8M445.1 121.8L445.6 106.7M445.6 106.7L445.1 92.1M445.1 92.1L443.7 78.6M443.7 78.6L441.3 66.7M441.3 66.7L438 56.8M438 56.8L434.1 49.3M434.1 49.3L429.6 44.6M429.6 44.6L424.7 42.8M419.7 196.1L418.9 191.9M418.9 191.9L418.1 184.9M418.1 184.9L417.5 175.4M417.5 175.4L416.9 163.8M416.9 163.8L416.4 150.5M416.4 150.5L416 136.1M416 136.1L415.8 121M415.8 121L415.7 105.9M415.7 105.9L415.8 91.3M415.8 91.3L416 77.8M416 77.8L416.4 66M416.4 66L416.9 56.2M416.9 56.2L417.5 48.9M417.5 48.9L418.1 44.3M418.1 44.3L418.9 42.6" fill="none" stroke="#10202a" stroke-width="0.45" stroke-opacity="0.85"/>
<circle cx="419.9" cy="119.9" r="9.1" fill="#dda37c"/>
<path d="M414.6 197.3L420.4 197.4M420.4 197.4L426.2 197.2M392.9 192.6L399.8 194.3M399.8 194.3L409.7 195.4M409.7 195.4L421.2 195.8M421.2 195.8L432.4 195.3M432.4 195.3L441.7 194M441.7 194L447.6 192.2M380.7 186.6L390.8 189.1M390.8 189.1L405.2 190.7M405.2 190.7L421.9 191.2M421.9 191.2L438.2 190.4M438.2 190.4L451.6 188.6M451.6 188.6L460.3 186M364.9 174.3L370.1 178.1M370.1 178.1L382.9 181.2M382.9 181.2L401.3 183.3M401.3 183.3L422.5 183.9M422.5 183.9L443.2 182.9M443.2 182.9L460.4 180.6M460.4 180.6L471.3 177.3M355.3 162.8L361.4 167.3M361.4 167.3L376.4 171M376.4 171L398.1 173.4M398.1 173.4L423 174.1M423 174.1L447.3 173M447.3 173L467.5 170.3M467.5 170.3L480.4 166.3M480.4 166.3L484.1 161.8M348.1 149.7L354.9 154.7M354.9 154.7L371.6 158.8M371.6 158.8L395.7 161.5M395.7 161.5L423.3 162.2M423.3 162.2L450.4 161M450.4 161L472.8 158M472.8 158L487.2 153.6M487.2 153.6L491.2 148.6M343.7 135.5L351 140.8M351 140.8L368.7 145.1M368.7 145.1L394.2 147.9M394.2 147.9L423.5 148.8M423.5 148.8L452.3 147.5M452.3 147.5L476.1 144.3M476.1 144.3L491.3 139.6M491.3 139.6L495.6 134.3M342.2 120.7L349.6 126M349.6 126L367.7 130.5M367.7 130.5L393.7 133.4M393.7 133.4L423.6 134.2M423.6 134.2L453 132.9M453 132.9L477.2 129.6M477.2 129.6L492.7 124.9M492.7 124.9L497.1 119.4M343.7 105.8L351 111.1M351 111.1L368.7 115.4M368.7 115.4L394.2 118.3M394.2 118.3L423.5 119.1M423.5 119.1L452.3 117.8M452.3 117.8L476.1 114.6M476.1 114.6L491.3 109.9M491.3 109.9L495.6 104.6M348.1 91.5L354.9 96.5M354.9 96.5L371.6 100.6M371.6 100.6L395.7 103.2M395.7 103.2L423.3 104M423.3 104L450.4 102.8M450.4 102.8L472.8 99.8M472.8 99.8L487.2 95.4M487.2 95.4L491.2 90.3M355.3 78.3L361.4 82.7M361.4 82.7L376.4 86.4M376.4 86.4L398.1 88.8M398.1 88.8L423 89.5M423 89.5L447.3 88.4M447.3 88.4L467.5 85.7M467.5 85.7L480.4 81.8M480.4 81.8L484.1 77.2M368 62.8L364.9 66.7M364.9 66.7L370.1 70.5M370.1 70.5L382.9 73.6M382.9 73.6L401.3 75.6M401.3 75.6L422.5 76.2M422.5 76.2L443.2 75.3M443.2 75.3L460.4 73M460.4 73L471.3 69.6M471.3 69.6L474.4 65.8M379.1 54.1L376.6 57.1M376.6 57.1L380.7 60.1M380.7 60.1L390.8 62.6M390.8 62.6L405.2 64.2M405.2 64.2L421.9 64.6M421.9 64.6L438.2 63.9M438.2 63.9L451.6 62.1M451.6 62.1L460.3 59.4M460.3 59.4L462.7 56.4M462.7 56.4L458.6 53.4M391.7 47.9L390 50M390 50L392.9 52M392.9 52L399.8 53.7M399.8 53.7L409.7 54.8M409.7 54.8L421.2 55.1M421.2 55.1L432.4 54.6M432.4 54.6L441.7 53.4M441.7 53.4L447.6 51.6M447.6 51.6L449.3 49.5M449.3 49.5L446.5 47.4M413.2 42.9L408.4 43.5M408.4 43.5L405.4 44.4M405.4 44.4L404.5 45.5M404.5 45.5L406 46.6M406 46.6L409.5 47.4M409.5 47.4L414.6 48M414.6 48L420.4 48.2M420.4 48.2L426.2 47.9M426.2 47.9L430.9 47.3M430.9 47.3L433.9 46.3M433.9 46.3L434.8 45.3M434.8 45.3L433.3 44.2M433.3 44.2L429.8 43.4M429.8 43.4L424.7 42.8M413.2 42.9L419.7 43.9M408.4 43.5L419.7 43.9M379.1 54.1L391.7 47.9M391.7 47.9L405.4 44.4M405.4 44.4L419.7 43.9M343.7 135.5L342.2 120.7M342.2 120.7L343.7 105.8M343.7 105.8L348.1 91.5M348.1 91.5L355.3 78.3M355.3 78.3L364.9 66.7M364.9 66.7L376.6 57.1M376.6 57.1L390 50M390 50L404.5 45.5M404.5 45.5L419.7 43.9M392.9 192.6L380.7 186.6M380.7 186.6L370.1 178.1M370.1 178.1L361.4 167.3M361.4 167.3L354.9 154.7M354.9 154.7L351 140.8M351 140.8L349.6 126M349.6 126L351 111.1M351 111.1L354.9 96.5M354.9 96.5L361.4 82.7M361.4 82.7L370.1 70.5M370.1 70.5L380.7 60.1M380.7 60.1L392.9 52M392.9 52L406 46.6M406 46.6L419.7 43.9M409.5 196.7L399.8 194.3M399.8 194.3L390.8 189.1M390.8 189.1L382.9 181.2M382.9 181.2L376.4 171M376.4 171L371.6 158.8M371.6 158.8L368.7 145.1M368.7 145.1L367.7 130.5M367.7 130.5L368.7 115.4M368.7 115.4L371.6 100.6M371.6 100.6L376.4 86.4M376.4 86.4L382.9 73.6M382.9 73.6L390.8 62.6M390.8 62.6L399.8 53.7M399.8 53.7L409.5 47.4M409.5 47.4L419.7 43.9M414.6 197.3L409.7 195.4M409.7 195.4L405.2 190.7M405.2 190.7L401.3 183.3M401.3 183.3L398.1 173.4M398.1 173.4L395.7 161.5M395.7 161.5L394.2 147.9M394.2 147.9L393.7 133.4M393.7 133.4L394.2 118.3M394.2 118.3L395.7 103.2M395.7 103.2L398.1 88.8M398.1 88.8L401.3 75.6M401.3 75.6L405.2 64.2M405.2 64.2L409.7 54.8M409.7 54.8L414.6 48M414.6 48L419.7 43.9M420.4 197.4L421.2 195.8M421.2 195.8L421.9 191.2M421.9 191.2L422.5 183.9M422.5 183.9L423 174.1M423 174.1L423.3 162.2M423.3 162.2L423.5 148.8M423.5 148.8L423.6 134.2M423.6 134.2L423.5 119.1M423.5 119.1L423.3 104M423.3 104L423 89.5M423 89.5L422.5 76.2M422.5 76.2L421.9 64.6M421.9 64.6L421.2 55.1M421.2 55.1L420.4 48.2M420.4 48.2L419.7 43.9M426.2 197.2L432.4 195.3M432.4 195.3L438.2 190.4M438.2 190.4L443.2 182.9M443.2 182.9L447.3 173M447.3 173L450.4 161M450.4 161L452.3 147.5M452.3 147.5L453 132.9M453 132.9L452.3 117.8M452.3 117.8L450.4 102.8M450.4 102.8L447.3 88.4M447.3 88.4L443.2 75.3M443.2 75.3L438.2 63.9M438.2 63.9L432.4 54.6M432.4 54.6L426.2 47.9M426.2 47.9L419.7 43.9M430.9 196.5L441.7 194M441.7 194L451.6 188.6M451.6 188.6L460.4 180.6M460.4 180.6L467.5 170.3M467.5 170.3L472.8 158M472.8 158L476.1 144.3M476.1 144.3L477.2 129.6M477.2 129.6L476.1 114.6M476.1 114.6L472.8 99.8M472.8 99.8L467.5 85.7M467.5 85.7L460.4 73M460.4 73L451.6 62.1M451.6 62.1L441.7 53.4M441.7 53.4L430.9 47.3M430.9 47.3L419.7 43.9M460.3 186L471.3 177.3M471.3 177.3L480.4 166.3M480.4 166.3L487.2 153.6M487.2 153.6L491.3 139.6M491.3 139.6L492.7 124.9M492.7 124.9L491.3 109.9M491.3 109.9L487.2 95.4M487.2 95.4L480.4 81.8M480.4 81.8L471.3 69.6M471.3 69.6L460.3 59.4M460.3 59.4L447.6 51.6M447.6 51.6L433.9 46.3M433.9 46.3L419.7 43.9M495.6 104.6L491.2 90.3M491.2 90.3L484.1 77.2M484.1 77.2L474.4 65.8M474.4 65.8L462.7 56.4M462.7 56.4L449.3 49.5M449.3 49.5L434.8 45.3M434.8 45.3L419.7 43.9M446.5 47.4L433.3 44.2M433.3 44.2L419.7 43.9M429.8 43.4L419.7 43.9M424.7 42.8L419.7 43.9M418.9 42.6L419.7 43.9" fill="none" stroke="#10202a" stroke-width="0.45" stroke-opacity="0.9"/>
<path d="M411.3 117.8q-1.9 2.9 0 5.8" fill="none" stroke="#111" stroke-width="1.8" stroke-linecap="round"/>
<path d="M411.3 119H419.2" stroke="#222" stroke-width="0.45"/>
<circle cx="420" cy="119.6" r="1.55" fill="#0a0a0a"/>
<circle cx="427" cy="119.3" r="1.3" fill="#0a0a0a"/>
<circle cx="423.9" cy="122.8" r="1.75" fill="#0a0a0a"/>
<g font-size="8" fill="#3a3a3a">
<rect x="370.6" y="45.8" width="32.4" height="22.8" rx="1" fill="#fff" fill-opacity="0.93" stroke="#cfcfcf" stroke-width="0.6"/>
<text x="373.9" y="55.9">azi: -90</text><text x="373.9" y="65.5">ele: 45</text>
<circle cx="370.1" cy="70.5" r="1.6" fill="#ea6a50"/><circle cx="370.1" cy="70.5" r="0.85" fill="#1a1410"/>
<rect x="469.7" y="37.3" width="30.2" height="22.8" rx="1" fill="#fff" fill-opacity="0.93" stroke="#cfcfcf" stroke-width="0.6"/>
<text x="473" y="47.4">azi: 90</text><text x="473" y="57">ele: 45</text>
<circle cx="469.2" cy="62" r="1.6" fill="#ea6a50"/><circle cx="469.2" cy="62" r="0.85" fill="#1a1410"/>
<rect x="386.9" y="82.5" width="34.2" height="22.8" rx="1" fill="#fff" fill-opacity="0.93" stroke="#cfcfcf" stroke-width="0.6"/>
<text x="390.2" y="92.6">azi: 180</text><text x="390.2" y="102.2">ele: 0</text>
<circle cx="386.4" cy="107.2" r="1.6" fill="#ea6a50"/><circle cx="386.4" cy="107.2" r="0.85" fill="#1a1410"/>
<rect x="453.5" y="108.2" width="25.8" height="22.8" rx="1" fill="#fff" fill-opacity="0.93" stroke="#cfcfcf" stroke-width="0.6"/>
<text x="456.8" y="118.3">azi: 0</text><text x="456.8" y="127.9">ele: 0</text>
<circle cx="453" cy="132.9" r="1.6" fill="#ea6a50"/><circle cx="453" cy="132.9" r="0.85" fill="#1a1410"/>
<rect x="370.6" y="153.4" width="32.9" height="22.8" rx="1" fill="#fff" fill-opacity="0.93" stroke="#cfcfcf" stroke-width="0.6"/>
<text x="373.9" y="163.5">azi: -90</text><text x="373.9" y="173.1">ele: -45</text>
<circle cx="370.1" cy="178.1" r="1.6" fill="#ea6a50"/><circle cx="370.1" cy="178.1" r="0.85" fill="#1a1410"/>
<rect x="469.7" y="144.9" width="32.9" height="22.8" rx="1" fill="#fff" fill-opacity="0.93" stroke="#cfcfcf" stroke-width="0.6"/>
<text x="473" y="155">azi: 90</text><text x="473" y="164.6">ele: -45</text>
<circle cx="469.2" cy="169.6" r="1.6" fill="#ea6a50"/><circle cx="469.2" cy="169.6" r="0.85" fill="#1a1410"/>
</g>
<g font-family="'Liberation Serif', serif" font-size="11.6" fill="#111" stroke="#111" stroke-width="0.2" text-anchor="middle"><text x="137.7" y="261.3" textLength="12.2" lengthAdjust="spacingAndGlyphs">(<tspan font-weight="bold">a</tspan>)</text><text x="415.1" y="261.3" textLength="13.2" lengthAdjust="spacingAndGlyphs">(<tspan font-weight="bold">b</tspan>)</text></g>
</svg>
</body></html>
